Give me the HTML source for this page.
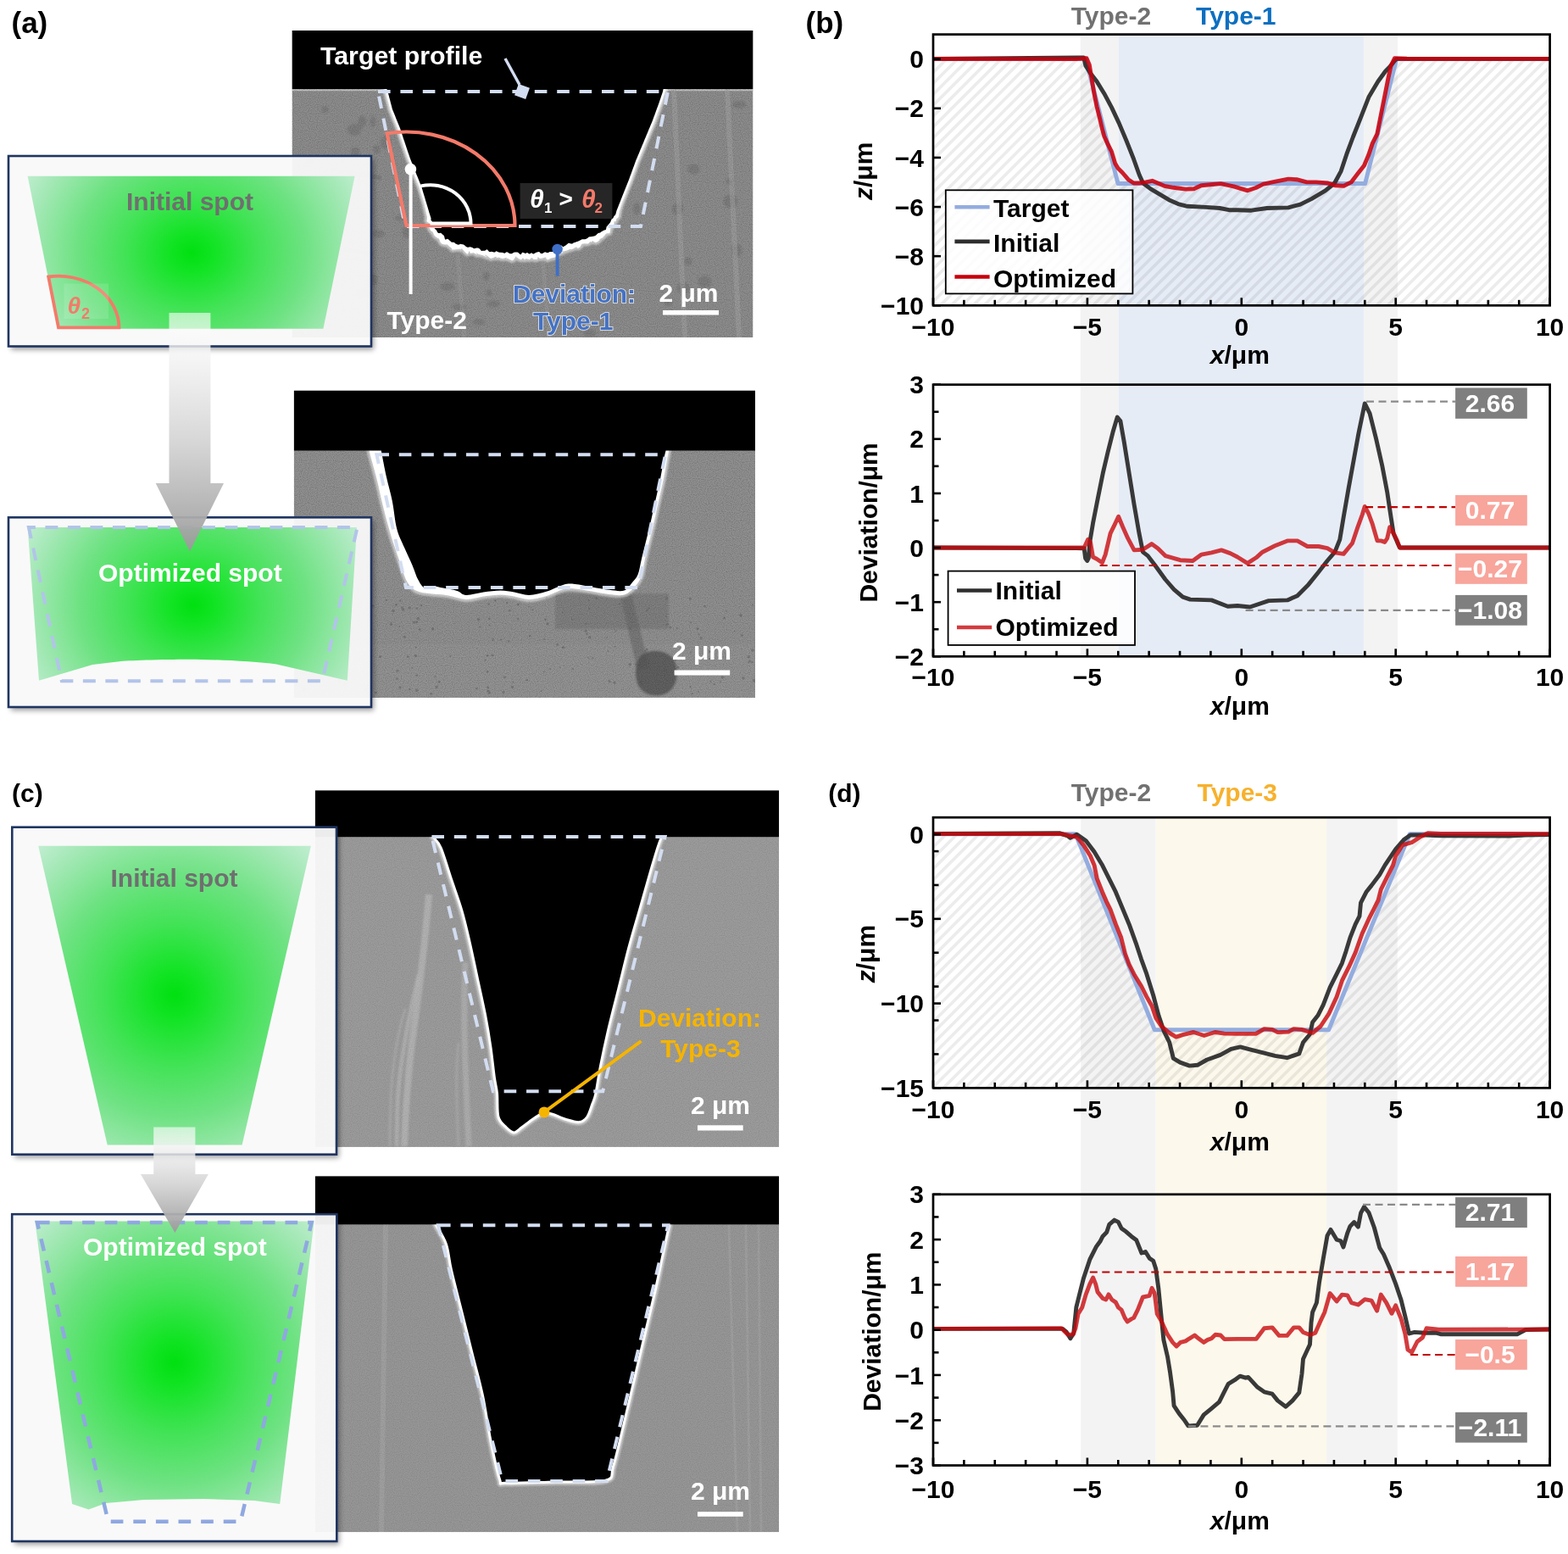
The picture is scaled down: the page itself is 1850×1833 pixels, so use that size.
<!DOCTYPE html>
<html><head><meta charset="utf-8"><style>html,body{margin:0;padding:0;background:#fff;overflow:hidden;}svg{display:block;}</style></head><body>
<svg width="1850" height="1833" viewBox="0 0 1850 1833" font-family="Liberation Sans, Arial, sans-serif">
<defs>
<pattern id="hatch" patternUnits="userSpaceOnUse" width="9.1" height="9.1" patternTransform="rotate(45)">
  <rect x="0" y="0" width="3.6" height="9.1" fill="#000" fill-opacity="0.075"/>
</pattern>
<filter id="shadow" x="-10%" y="-10%" width="125%" height="130%">
  <feDropShadow dx="3" dy="4" stdDeviation="3" flood-color="#000" flood-opacity="0.35"/>
</filter>
<filter id="blur3" x="-10%" y="-10%" width="120%" height="120%"><feGaussianBlur stdDeviation="3"/></filter>
<filter id="glow" x="-20%" y="-20%" width="140%" height="140%">
  <feGaussianBlur stdDeviation="1.2"/>
</filter>
<filter id="noise" x="0" y="0" width="100%" height="100%">
  <feTurbulence type="fractalNoise" baseFrequency="0.9" numOctaves="1" seed="3"/>
  <feColorMatrix type="matrix" values="0 0 0 0 0  0 0 0 0 0  0 0 0 0 0  0 0 0 0.9 -0.35"/>
</filter>
<linearGradient id="arrowg" x1="0" y1="0" x2="0" y2="1">
  <stop offset="0" stop-color="#ffffff" stop-opacity="0.6"/>
  <stop offset="0.15" stop-color="#f6f6f6" stop-opacity="0.8"/>
  <stop offset="0.55" stop-color="#d2d2d2" stop-opacity="0.92"/>
  <stop offset="1" stop-color="#9a9a9a" stop-opacity="0.95"/>
</linearGradient>

<radialGradient id="g1" gradientUnits="userSpaceOnUse" cx="226" cy="298" r="225" gradientTransform="translate(226 298) scale(1 0.87) translate(-226 -298)">
  <stop offset="0" stop-color="#00e010"/>
  <stop offset="0.12" stop-color="#12e424"/>
  <stop offset="0.35" stop-color="#42e356"/>
  <stop offset="0.6" stop-color="#6fe283"/>
  <stop offset="0.85" stop-color="#a4e8b6"/>
  <stop offset="1" stop-color="#c2eed2"/>
</radialGradient>
<radialGradient id="g2" gradientUnits="userSpaceOnUse" cx="228" cy="714" r="225" gradientTransform="translate(228 714) scale(1 0.87) translate(-228 -714)">
  <stop offset="0" stop-color="#00e010"/>
  <stop offset="0.12" stop-color="#12e424"/>
  <stop offset="0.35" stop-color="#42e356"/>
  <stop offset="0.6" stop-color="#6fe283"/>
  <stop offset="0.85" stop-color="#a4e8b6"/>
  <stop offset="1" stop-color="#c2eed2"/>
</radialGradient>
<radialGradient id="g3" gradientUnits="userSpaceOnUse" cx="206" cy="1173.5" r="240" gradientTransform="translate(206 1173.5) scale(1 1) translate(-206 -1173.5)">
  <stop offset="0" stop-color="#00e010"/>
  <stop offset="0.12" stop-color="#12e424"/>
  <stop offset="0.35" stop-color="#42e356"/>
  <stop offset="0.6" stop-color="#6fe283"/>
  <stop offset="0.85" stop-color="#a4e8b6"/>
  <stop offset="1" stop-color="#c2eed2"/>
</radialGradient>
<radialGradient id="g4" gradientUnits="userSpaceOnUse" cx="206" cy="1607" r="240" gradientTransform="translate(206 1607) scale(1 1) translate(-206 -1607)">
  <stop offset="0" stop-color="#00e010"/>
  <stop offset="0.12" stop-color="#12e424"/>
  <stop offset="0.35" stop-color="#42e356"/>
  <stop offset="0.6" stop-color="#6fe283"/>
  <stop offset="0.85" stop-color="#a4e8b6"/>
  <stop offset="1" stop-color="#c2eed2"/>
</radialGradient></defs>
<rect width="100%" height="100%" fill="#fff"/>
<clipPath id="c1"><rect x="344.5" y="36" width="544" height="362"/></clipPath>
<g clip-path="url(#c1)">
<rect x="344.5" y="36" width="544" height="362" fill="#8d8d8d"/>
<g fill="#666" opacity="0.35" filter="url(#glow)"><ellipse cx="523.3" cy="153.0" rx="6.9" ry="3.4"/><ellipse cx="636.7" cy="214.2" rx="3.3" ry="5.5"/><ellipse cx="370.1" cy="233.6" rx="3.4" ry="3.5"/><ellipse cx="577.1" cy="345.7" rx="3.7" ry="4.1"/><ellipse cx="685.7" cy="380.1" rx="6.5" ry="5.0"/><ellipse cx="872.3" cy="123.3" rx="8.2" ry="4.4"/><ellipse cx="427.2" cy="143.6" rx="4.9" ry="7.1"/><ellipse cx="446.7" cy="275.8" rx="6.8" ry="4.9"/><ellipse cx="643.0" cy="127.9" rx="3.4" ry="4.0"/><ellipse cx="714.0" cy="231.9" rx="4.9" ry="5.9"/><ellipse cx="592.5" cy="195.4" rx="7.8" ry="6.5"/><ellipse cx="480.6" cy="273.7" rx="6.2" ry="7.4"/><ellipse cx="740.3" cy="192.1" rx="8.9" ry="3.6"/><ellipse cx="573.7" cy="325.8" rx="3.9" ry="5.4"/><ellipse cx="371.0" cy="300.4" rx="7.6" ry="5.9"/><ellipse cx="818.4" cy="199.4" rx="7.2" ry="6.0"/><ellipse cx="660.2" cy="240.0" rx="8.0" ry="7.7"/><ellipse cx="603.6" cy="299.3" rx="3.4" ry="6.5"/><ellipse cx="696.2" cy="393.0" rx="7.9" ry="4.4"/><ellipse cx="556.4" cy="300.6" rx="3.1" ry="5.3"/><ellipse cx="439.9" cy="143.4" rx="3.4" ry="6.8"/><ellipse cx="419.2" cy="180.6" rx="5.3" ry="7.4"/><ellipse cx="393.1" cy="238.0" rx="6.3" ry="7.4"/><ellipse cx="788.3" cy="356.2" rx="4.7" ry="5.1"/><ellipse cx="541.9" cy="362.0" rx="8.7" ry="3.8"/><ellipse cx="444.3" cy="176.1" rx="4.4" ry="5.4"/><ellipse cx="665.2" cy="184.9" rx="3.0" ry="5.1"/><ellipse cx="547.6" cy="271.4" rx="8.7" ry="6.5"/><ellipse cx="625.8" cy="286.0" rx="7.1" ry="3.3"/><ellipse cx="831.3" cy="332.3" rx="8.2" ry="7.0"/><ellipse cx="559.9" cy="223.7" rx="3.6" ry="6.2"/><ellipse cx="383.3" cy="129.2" rx="4.3" ry="3.8"/><ellipse cx="531.9" cy="125.0" rx="3.0" ry="3.8"/><ellipse cx="404.3" cy="213.6" rx="3.2" ry="7.4"/><ellipse cx="678.5" cy="152.3" rx="4.5" ry="4.7"/><ellipse cx="544.8" cy="145.0" rx="8.1" ry="8.0"/><ellipse cx="599.3" cy="247.9" rx="3.5" ry="3.5"/><ellipse cx="533.3" cy="185.5" rx="8.0" ry="3.8"/><ellipse cx="362.4" cy="381.0" rx="6.2" ry="3.7"/><ellipse cx="640.6" cy="117.7" rx="6.2" ry="7.9"/><ellipse cx="811.9" cy="308.4" rx="4.6" ry="4.8"/><ellipse cx="439.4" cy="330.0" rx="6.2" ry="6.9"/><ellipse cx="526.4" cy="173.6" rx="7.9" ry="7.9"/><ellipse cx="806.2" cy="339.7" rx="7.9" ry="6.7"/><ellipse cx="471.3" cy="257.5" rx="5.1" ry="3.1"/><ellipse cx="364.9" cy="189.6" rx="4.6" ry="6.5"/><ellipse cx="861.7" cy="237.5" rx="8.6" ry="7.9"/><ellipse cx="860.9" cy="213.9" rx="4.3" ry="4.1"/><ellipse cx="455.2" cy="168.2" rx="6.7" ry="7.5"/><ellipse cx="799.6" cy="246.6" rx="6.9" ry="7.0"/><ellipse cx="395.4" cy="298.3" rx="8.5" ry="6.9"/><ellipse cx="751.3" cy="246.2" rx="4.1" ry="6.9"/><ellipse cx="527.9" cy="338.2" rx="8.8" ry="5.0"/><ellipse cx="564.7" cy="379.8" rx="7.3" ry="3.9"/><ellipse cx="418.0" cy="153.1" rx="8.4" ry="7.0"/><ellipse cx="428.2" cy="345.6" rx="8.9" ry="6.3"/><ellipse cx="537.5" cy="266.4" rx="3.8" ry="3.1"/><ellipse cx="869.4" cy="295.2" rx="6.2" ry="7.7"/><ellipse cx="582.1" cy="358.4" rx="8.0" ry="4.1"/><ellipse cx="484.7" cy="193.5" rx="4.4" ry="5.9"/></g><path d="M344.5 106.3 L458 106.3 M782 106.3 L888.5 106.3" stroke="#c4c4c4" stroke-width="1.8"/><path d="M795 105 L808 398 M858 105 L872 398" stroke="#a4a4a4" stroke-width="6" opacity="0.55" fill="none"/><path d="M390 200 L450 210 M385 290 L440 300" stroke="#707070" stroke-width="5" opacity="0.45" fill="none"/><path d="M540 300 L548 398 M640 300 L648 398" stroke="#a0a0a0" stroke-width="5" opacity="0.4" fill="none"/>
<rect x="344.5" y="105" width="544" height="293" filter="url(#noise)" opacity="0.5"/>
<path d="M455.5 103 C455.78 103.65 456.81 105.85 457.2 106.9 C457.59 107.95 457.62 108.51 457.83 109.32 C458.04 110.13 458.26 110.94 458.47 111.74 C458.68 112.55 458.89 113.36 459.1 114.17 C459.31 114.97 459.52 115.78 459.73 116.59 C459.94 117.4 460.16 118.2 460.37 119.01 C460.58 119.82 460.79 120.63 461 121.43 C461.21 122.24 461.42 123.05 461.63 123.86 C461.84 124.66 462.06 125.47 462.27 126.28 C462.48 127.09 462.62 127.87 462.9 128.7 C463.18 129.53 463.58 130.4 463.92 131.24 C464.26 132.09 464.6 132.94 464.94 133.79 C465.29 134.64 465.63 135.49 465.97 136.33 C466.31 137.18 466.65 138.03 466.99 138.88 C467.33 139.73 467.67 140.57 468.01 141.42 C468.35 142.27 468.69 143.12 469.03 143.97 C469.37 144.81 469.71 145.66 470.06 146.51 C470.4 147.36 470.74 148.21 471.08 149.06 C471.42 149.9 471.79 150.77 472.1 151.6 C472.41 152.43 472.64 153.24 472.91 154.06 C473.19 154.88 473.46 155.7 473.73 156.51 C474 157.33 474.27 158.15 474.54 158.97 C474.81 159.79 475.09 160.61 475.36 161.43 C475.63 162.25 475.9 163.07 476.17 163.89 C476.44 164.7 476.71 165.52 476.99 166.34 C477.26 167.16 477.53 167.98 477.8 168.8 C478.07 169.62 478.35 170.44 478.63 171.26 C478.9 172.08 479.18 172.9 479.46 173.71 C479.73 174.53 480.01 175.35 480.29 176.17 C480.56 176.99 480.84 177.81 481.11 178.63 C481.39 179.45 481.67 180.27 481.94 181.09 C482.22 181.9 482.5 182.72 482.77 183.54 C483.05 184.36 483.3 185.18 483.6 186 C483.9 186.82 484.25 187.64 484.57 188.46 C484.9 189.28 485.22 190.1 485.54 190.91 C485.87 191.73 486.19 192.55 486.51 193.37 C486.84 194.19 487.16 195.01 487.49 195.83 C487.81 196.65 488.13 197.47 488.46 198.29 C488.78 199.1 489.1 199.92 489.43 200.74 C489.75 201.56 490.07 202.38 490.4 203.2 C490.73 204.02 491.06 204.83 491.39 205.64 C491.71 206.46 492.04 207.27 492.37 208.09 C492.7 208.9 493.03 209.71 493.36 210.53 C493.69 211.34 494.01 212.16 494.34 212.97 C494.67 213.79 495 214.6 495.33 215.41 C495.66 216.23 495.99 217.04 496.31 217.86 C496.64 218.67 497.01 219.47 497.3 220.3 C497.59 221.13 497.81 222 498.07 222.86 C498.32 223.71 498.58 224.56 498.83 225.41 C499.09 226.26 499.34 227.11 499.6 227.97 C499.86 228.82 500.11 229.67 500.37 230.52 C500.62 231.37 500.88 232.23 501.13 233.08 C501.39 233.93 501.64 234.78 501.9 235.63 C502.16 236.49 502.41 237.34 502.67 238.19 C502.92 239.04 503.18 239.89 503.43 240.74 C503.69 241.6 503.94 242.43 504.2 243.3 C504.46 244.17 504.74 245.08 505.01 245.97 C505.29 246.86 505.53 247.64 505.83 248.64 C506.13 249.65 506.47 250.89 506.81 251.99 C507.16 253.09 507.57 254.25 507.87 255.22 C508.17 256.2 508.51 257.17 508.61 257.84 C508.7 258.51 508.11 258.47 508.43 259.23 C508.75 260 510.01 261.7 510.52 262.42 C511.03 263.13 511.26 262.84 511.49 263.52 C511.73 264.2 511.66 265.41 511.92 266.49 C512.18 267.57 512.63 269.26 513.06 270.01 C513.49 270.75 513.82 270.15 514.49 270.96 C515.15 271.77 516.13 274.24 517.02 274.87 C517.92 275.49 519.03 274.41 519.87 274.7 C520.72 274.98 521.4 275.95 522.08 276.59 C522.77 277.22 523.46 277.51 524 278.5 C524.53 279.5 524.63 282.01 525.3 282.54 C525.97 283.07 526.98 281.35 528.02 281.68 C529.06 282 530.7 283.82 531.53 284.49 C532.35 285.17 532.28 285.48 532.98 285.72 C533.68 285.95 534.97 285.58 535.75 285.9 C536.54 286.21 536.87 287.15 537.71 287.61 C538.56 288.07 539.85 288.63 540.82 288.66 C541.79 288.68 542.79 287.81 543.53 287.76 C544.26 287.71 544.57 288.2 545.21 288.36 C545.84 288.53 546.54 288.31 547.34 288.73 C548.14 289.15 549.22 290.39 550 290.89 C550.78 291.39 551.2 291.67 552.02 291.75 C552.84 291.83 553.92 291.24 554.92 291.37 C555.93 291.49 557.23 292.2 558.03 292.5 C558.84 292.79 558.98 293.13 559.77 293.15 C560.55 293.17 561.78 292.61 562.75 292.61 C563.72 292.61 564.72 292.64 565.57 293.16 C566.41 293.68 567.2 295.28 567.84 295.73 C568.48 296.17 568.63 295.86 569.41 295.83 C570.18 295.79 571.62 295.76 572.48 295.5 C573.34 295.24 573.75 294.01 574.57 294.27 C575.39 294.53 576.5 296.66 577.4 297.07 C578.31 297.49 578.98 296.7 580.02 296.78 C581.05 296.86 582.73 297.66 583.63 297.56 C584.53 297.46 584.63 296.16 585.4 296.17 C586.17 296.18 587.44 297.34 588.24 297.61 C589.05 297.88 589.32 297.68 590.25 297.8 C591.18 297.91 592.97 298.14 593.82 298.3 C594.67 298.45 594.65 298.91 595.35 298.73 C596.05 298.55 597.03 297.17 598.03 297.22 C599.03 297.27 600.43 298.7 601.36 299.03 C602.28 299.37 602.72 299.46 603.58 299.24 C604.43 299.02 605.6 298 606.46 297.71 C607.32 297.43 607.99 297.54 608.74 297.53 C609.5 297.51 610.06 297.19 611.01 297.64 C611.96 298.08 613.58 300.18 614.46 300.2 C615.35 300.22 615.39 297.94 616.33 297.74 C617.26 297.53 619.14 298.93 620.06 298.97 C620.98 299.02 621.06 297.93 621.83 298.02 C622.6 298.12 623.8 299.51 624.67 299.55 C625.54 299.6 626.32 298.3 627.06 298.3 C627.79 298.3 628.28 299.58 629.08 299.56 C629.87 299.55 630.72 298.62 631.83 298.2 C632.94 297.77 634.65 296.84 635.75 296.99 C636.84 297.15 637.5 298.86 638.38 299.1 C639.26 299.35 640.24 298.77 641.03 298.46 C641.81 298.16 642.26 297.32 643.08 297.29 C643.89 297.25 644.95 298.3 645.92 298.25 C646.9 298.2 647.82 297.21 648.91 296.97 C650.01 296.72 651.47 297.22 652.5 296.79 C653.52 296.35 654.32 294.86 655.07 294.37 C655.81 293.88 656.23 294.35 656.98 293.84 C657.73 293.33 658.72 292.02 659.57 291.31 C660.42 290.61 661.25 289.64 662.07 289.61 C662.88 289.58 663.51 291.2 664.45 291.15 C665.39 291.11 666.86 289.9 667.69 289.33 C668.53 288.76 668.87 288.15 669.47 287.71 C670.08 287.27 670.45 286.74 671.32 286.71 C672.2 286.69 673.85 287.6 674.72 287.57 C675.59 287.54 675.75 286.88 676.56 286.53 C677.36 286.17 678.68 285.74 679.56 285.46 C680.44 285.17 681.12 285.09 681.83 284.83 C682.54 284.56 683.12 284.26 683.85 283.86 C684.57 283.46 685.26 282.71 686.17 282.43 C687.08 282.16 688.47 282.25 689.29 282.2 C690.11 282.14 690.28 282.42 691.06 282.1 C691.85 281.78 693.25 280.72 694 280.26 C694.74 279.81 694.82 279.58 695.54 279.36 C696.26 279.13 697.4 279.04 698.31 278.89 C699.23 278.75 700.19 278.78 701.05 278.49 C701.91 278.19 702.78 277.65 703.47 277.13 C704.17 276.62 704.48 275.82 705.22 275.4 C705.96 274.98 707.21 274.96 707.93 274.62 C708.66 274.28 708.8 273.86 709.56 273.36 C710.31 272.86 711.58 272.01 712.45 271.63 C713.32 271.25 714.25 271.72 714.77 271.08 C715.29 270.44 715.28 268.54 715.58 267.78 C715.87 267.03 715.95 267.27 716.53 266.54 C717.11 265.82 718.46 264.19 719.06 263.44 C719.67 262.68 719.73 262.86 720.17 262.02 C720.6 261.17 721.17 259.15 721.67 258.38 C722.18 257.62 722.72 258.01 723.19 257.43 C723.66 256.84 724.03 255.49 724.48 254.88 C724.93 254.27 725.48 254.37 725.87 253.77 C726.26 253.17 726.54 252.19 726.81 251.28 C727.09 250.38 727.27 249.21 727.54 248.33 C727.82 247.45 728.16 246.78 728.47 246 C728.77 245.22 729.08 244.44 729.39 243.67 C729.7 242.89 730 242.11 730.31 241.33 C730.62 240.56 730.93 239.78 731.23 239 C731.54 238.22 731.85 237.44 732.16 236.67 C732.46 235.89 732.77 235.11 733.08 234.33 C733.39 233.56 733.68 232.81 734 232 C734.32 231.19 734.67 230.33 735 229.5 C735.33 228.67 735.67 227.83 736 227 C736.33 226.17 736.67 225.33 737 224.5 C737.33 223.67 737.67 222.83 738 222 C738.33 221.17 738.67 220.33 739 219.5 C739.33 218.67 739.67 217.83 740 217 C740.33 216.17 740.67 215.33 741 214.5 C741.33 213.67 741.69 212.82 742 212 C742.31 211.18 742.59 210.37 742.89 209.56 C743.19 208.74 743.48 207.93 743.78 207.11 C744.07 206.3 744.37 205.48 744.67 204.67 C744.96 203.85 745.26 203.04 745.56 202.22 C745.85 201.41 746.15 200.59 746.44 199.78 C746.74 198.96 747.04 198.15 747.33 197.33 C747.63 196.52 747.93 195.7 748.22 194.89 C748.52 194.07 748.81 193.26 749.11 192.44 C749.41 191.63 749.69 190.81 750 190 C750.31 189.19 750.67 188.4 751 187.6 C751.33 186.8 751.67 186 752 185.2 C752.33 184.4 752.67 183.6 753 182.8 C753.33 182 753.67 181.2 754 180.4 C754.33 179.6 754.67 178.8 755 178 C755.33 177.2 755.67 176.4 756 175.6 C756.33 174.8 756.67 174 757 173.2 C757.33 172.4 757.67 171.6 758 170.8 C758.33 170 758.67 169.2 759 168.4 C759.33 167.6 759.67 166.8 760 166 C760.33 165.2 760.67 164.4 761 163.6 C761.33 162.8 761.67 162 762 161.2 C762.33 160.4 762.67 159.6 763 158.8 C763.33 158 763.67 157.2 764 156.4 C764.33 155.6 764.67 154.8 765 154 C765.33 153.2 765.67 152.4 766 151.6 C766.33 150.8 766.67 150 767 149.2 C767.33 148.4 767.67 147.6 768 146.8 C768.33 146 768.67 145.2 769 144.4 C769.33 143.6 769.69 142.81 770 142 C770.31 141.19 770.59 140.37 770.89 139.56 C771.19 138.74 771.48 137.93 771.78 137.11 C772.07 136.3 772.37 135.48 772.67 134.67 C772.96 133.85 773.26 133.04 773.56 132.22 C773.85 131.41 774.15 130.59 774.44 129.78 C774.74 128.96 775.04 128.15 775.33 127.33 C775.63 126.52 775.93 125.7 776.22 124.89 C776.52 124.07 776.81 123.26 777.11 122.44 C777.41 121.63 777.72 120.81 778 120 C778.28 119.19 778.53 118.4 778.8 117.6 C779.07 116.8 779.33 116 779.6 115.2 C779.87 114.4 780.13 113.6 780.4 112.8 C780.67 112 780.93 111.2 781.2 110.4 C781.47 109.6 781.78 108.82 782 108 C782.22 107.18 782.33 106.33 782.5 105.5 C782.67 104.67 782.92 103.42 783 103" fill="none" stroke="#fff" stroke-width="7" stroke-opacity="0.55" filter="url(#glow)"/>
<path d="M453.21 104 C453.48 104.63 454.49 106.77 454.85 107.77 C455.22 108.76 455.22 109.19 455.41 109.95 C455.61 110.72 455.84 111.57 456.05 112.38 C456.26 113.18 456.47 113.99 456.68 114.8 C456.89 115.61 457.1 116.41 457.31 117.22 C457.53 118.03 457.74 118.84 457.95 119.64 C458.16 120.45 458.37 121.26 458.58 122.07 C458.79 122.87 459 123.68 459.21 124.49 C459.43 125.3 459.63 126.08 459.85 126.91 C460.07 127.74 460.24 128.61 460.53 129.49 C460.82 130.37 461.25 131.3 461.6 132.18 C461.95 133.05 462.28 133.87 462.62 134.72 C462.97 135.57 463.31 136.42 463.65 137.27 C463.99 138.11 464.33 138.96 464.67 139.81 C465.01 140.66 465.35 141.51 465.69 142.35 C466.03 143.2 466.37 144.05 466.71 144.9 C467.05 145.75 467.4 146.59 467.74 147.44 C468.08 148.29 468.42 149.15 468.76 149.99 C469.09 150.82 469.46 151.65 469.75 152.46 C470.05 153.27 470.27 154.04 470.54 154.84 C470.81 155.65 471.08 156.48 471.36 157.3 C471.63 158.12 471.9 158.94 472.17 159.76 C472.44 160.58 472.71 161.4 472.98 162.22 C473.26 163.03 473.53 163.85 473.8 164.67 C474.07 165.49 474.34 166.31 474.61 167.13 C474.88 167.95 475.15 168.77 475.43 169.59 C475.7 170.41 475.98 171.24 476.26 172.06 C476.54 172.88 476.81 173.69 477.09 174.51 C477.36 175.33 477.64 176.15 477.92 176.97 C478.19 177.79 478.47 178.61 478.75 179.43 C479.02 180.25 479.3 181.07 479.57 181.88 C479.85 182.7 480.12 183.51 480.4 184.34 C480.68 185.17 480.95 186.02 481.25 186.86 C481.56 187.7 481.92 188.55 482.25 189.38 C482.57 190.21 482.89 191.01 483.22 191.83 C483.54 192.65 483.87 193.47 484.19 194.29 C484.51 195.11 484.84 195.93 485.16 196.75 C485.48 197.57 485.81 198.39 486.13 199.2 C486.46 200.02 486.78 200.84 487.1 201.66 C487.43 202.48 487.75 203.31 488.08 204.13 C488.41 204.95 488.74 205.76 489.07 206.58 C489.4 207.39 489.72 208.21 490.05 209.02 C490.38 209.84 490.71 210.65 491.04 211.46 C491.37 212.28 491.7 213.09 492.02 213.91 C492.35 214.72 492.68 215.54 493.01 216.35 C493.34 217.16 493.67 218 494 218.79 C494.32 219.59 494.66 220.33 494.94 221.13 C495.22 221.92 495.42 222.74 495.67 223.57 C495.92 224.41 496.18 225.28 496.44 226.13 C496.69 226.98 496.95 227.83 497.21 228.69 C497.46 229.54 497.72 230.39 497.97 231.24 C498.23 232.09 498.48 232.94 498.74 233.8 C498.99 234.65 499.25 235.5 499.51 236.35 C499.76 237.2 500.03 238.05 500.27 238.91 C500.52 239.76 500.76 240.62 500.97 241.48 C501.17 242.35 501.31 243.22 501.49 244.12 C501.67 245.02 501.87 245.96 502.05 246.87 C502.24 247.79 502.4 248.57 502.61 249.61 C502.81 250.64 503.06 252.02 503.28 253.09 C503.51 254.15 503.88 254.91 503.97 256 C504.05 257.08 503.85 258.78 503.79 259.6 C503.72 260.43 502.97 260.24 503.56 260.95 C504.14 261.65 506.73 263.08 507.3 263.84 C507.88 264.59 507.18 264.89 506.99 265.47 C506.81 266.05 505.91 266.12 506.18 267.31 C506.45 268.5 507.89 271.58 508.62 272.59 C509.34 273.6 509.75 272.41 510.51 273.4 C511.27 274.39 511.95 277.15 513.19 278.54 C514.43 279.92 517.15 281.13 517.96 281.7 C518.77 282.28 518.01 281.89 518.05 281.99 C518.1 282.09 517.79 281.48 518.23 282.31 C518.66 283.14 519.28 285.93 520.64 286.97 C521.99 288.02 525.24 288.4 526.35 288.6 C527.46 288.81 526.6 287.82 527.3 288.21 C528 288.61 529.61 290.17 530.56 290.96 C531.51 291.74 532.4 292.32 532.99 292.92 C533.58 293.52 532.74 294.42 534.12 294.55 C535.5 294.69 539.65 293.78 541.25 293.73 C542.86 293.67 543.5 294.11 543.76 294.22 C544.03 294.34 542.64 294.59 542.84 294.42 C543.04 294.26 544.33 293.12 544.96 293.24 C545.59 293.36 545.54 294.1 546.63 295.14 C547.72 296.18 550.34 299.3 551.51 299.48 C552.68 299.67 553.04 296.37 553.65 296.24 C554.25 296.12 554.26 298.38 555.13 298.72 C555.99 299.07 557.57 298.03 558.84 298.32 C560.11 298.61 562.19 300.45 562.73 300.46 C563.26 300.47 561.77 298.5 562.04 298.38 C562.32 298.27 563.06 299.29 564.36 299.77 C565.66 300.25 568.15 300.7 569.85 301.27 C571.54 301.84 574.19 303.3 574.53 303.19 C574.87 303.09 571.82 300.86 571.88 300.64 C571.93 300.42 573.65 301.16 574.86 301.86 C576.07 302.56 577.43 304.68 579.14 304.84 C580.86 305 584.07 302.93 585.15 302.81 C586.24 302.68 585.55 303.89 585.65 304.12 C585.76 304.34 585.25 304.18 585.76 304.13 C586.27 304.08 587.53 303.68 588.73 303.82 C589.92 303.96 591.48 305 592.93 304.98 C594.37 304.96 596.64 303.72 597.4 303.7 C598.15 303.69 597.14 304.67 597.46 304.88 C597.77 305.09 598.01 304.62 599.27 304.98 C600.54 305.35 603.48 307.53 605.04 307.09 C606.6 306.65 607.91 302.95 608.63 302.34 C609.34 301.74 609.41 303.43 609.33 303.48 C609.26 303.52 607.33 302.16 608.15 302.61 C608.97 303.05 612.77 305.82 614.25 306.14 C615.74 306.45 616.25 304.46 617.06 304.5 C617.87 304.54 618.55 306.23 619.09 306.37 C619.62 306.52 619.3 305.43 620.26 305.37 C621.21 305.32 623.63 306.27 624.82 306.04 C626.01 305.81 626.58 304.03 627.38 304 C628.17 303.96 628.54 305.53 629.6 305.82 C630.66 306.12 632.89 306.21 633.74 305.75 C634.59 305.28 634.12 303.16 634.7 303.03 C635.28 302.89 635.72 304.87 637.21 304.95 C638.7 305.02 642.52 303.8 643.64 303.47 C644.75 303.15 643.59 302.55 643.91 303.01 C644.23 303.48 644.58 305.97 645.56 306.26 C646.54 306.55 648.09 305.27 649.8 304.74 C651.51 304.22 654.46 304.17 655.81 303.12 C657.15 302.06 657.13 299.11 657.85 298.4 C658.58 297.69 659.16 298.97 660.17 298.87 C661.18 298.77 663.6 298.45 663.91 297.8 C664.22 297.15 661.88 295.18 662.05 294.96 C662.21 294.74 663.43 296.5 664.87 296.49 C666.32 296.47 669.26 295.69 670.71 294.87 C672.16 294.05 673.47 291.76 673.59 291.59 C673.71 291.42 671.13 293.51 671.43 293.86 C671.72 294.21 673.98 294.09 675.37 293.69 C676.77 293.28 678.68 291.62 679.77 291.43 C680.86 291.23 681.07 292.6 681.9 292.51 C682.72 292.43 683.97 291.63 684.71 290.9 C685.45 290.17 685.78 288.66 686.34 288.11 C686.91 287.56 687.51 287.73 688.11 287.61 C688.71 287.48 688.97 287.42 689.94 287.35 C690.92 287.29 692.87 287.65 693.98 287.22 C695.09 286.79 696.04 285.03 696.61 284.77 C697.18 284.51 697 285.78 697.42 285.68 C697.84 285.58 698.19 284.12 699.13 284.16 C700.07 284.2 701.72 286.03 703.07 285.92 C704.42 285.82 706.5 284.16 707.22 283.54 C707.95 282.93 706.79 282.81 707.43 282.24 C708.08 281.68 710.2 280.8 711.1 280.15 C711.99 279.5 712.1 279.13 712.82 278.34 C713.53 277.56 714.29 276.02 715.38 275.42 C716.47 274.82 718.55 275.58 719.35 274.75 C720.15 273.91 719.91 271.46 720.17 270.42 C720.43 269.38 720.41 269.18 720.91 268.5 C721.4 267.82 722.59 266.97 723.16 266.32 C723.73 265.67 724.09 265.48 724.33 264.61 C724.57 263.74 724.25 261.65 724.58 261.1 C724.91 260.54 725.85 261.76 726.3 261.29 C726.75 260.82 726.74 259.11 727.27 258.27 C727.8 257.43 728.99 257.27 729.49 256.28 C730 255.29 730.08 253.51 730.28 252.35 C730.49 251.19 730.55 250.2 730.73 249.33 C730.9 248.46 731.13 247.91 731.35 247.14 C731.57 246.37 731.82 245.53 732.05 244.72 C732.29 243.91 732.51 243.1 732.76 242.3 C733.01 241.5 733.27 240.7 733.56 239.92 C733.85 239.13 734.17 238.36 734.48 237.59 C734.79 236.81 735.1 236.03 735.4 235.25 C735.71 234.48 736 233.73 736.32 232.92 C736.64 232.12 736.99 231.26 737.32 230.43 C737.65 229.6 737.99 228.76 738.32 227.93 C738.65 227.1 738.99 226.26 739.32 225.43 C739.65 224.6 739.99 223.76 740.32 222.93 C740.65 222.1 740.99 221.26 741.32 220.43 C741.65 219.6 741.99 218.76 742.32 217.93 C742.65 217.1 742.99 216.27 743.32 215.43 C743.66 214.59 744.02 213.73 744.34 212.89 C744.65 212.06 744.94 211.23 745.24 210.41 C745.54 209.59 745.83 208.78 746.13 207.97 C746.42 207.15 746.72 206.34 747.02 205.52 C747.31 204.71 747.61 203.89 747.91 203.08 C748.2 202.26 748.5 201.45 748.79 200.63 C749.09 199.82 749.39 199 749.68 198.19 C749.98 197.37 750.28 196.56 750.57 195.74 C750.87 194.93 751.17 194.1 751.46 193.3 C751.75 192.49 752.02 191.7 752.33 190.91 C752.64 190.12 752.98 189.35 753.31 188.56 C753.64 187.77 753.97 186.96 754.31 186.16 C754.64 185.36 754.97 184.56 755.31 183.76 C755.64 182.96 755.97 182.16 756.31 181.36 C756.64 180.56 756.97 179.76 757.31 178.96 C757.64 178.16 757.97 177.36 758.31 176.56 C758.64 175.76 758.97 174.96 759.31 174.16 C759.64 173.36 759.97 172.56 760.31 171.76 C760.64 170.96 760.97 170.16 761.31 169.36 C761.64 168.56 761.97 167.76 762.31 166.96 C762.64 166.16 762.97 165.36 763.31 164.56 C763.64 163.76 763.97 162.96 764.31 162.16 C764.64 161.36 764.97 160.56 765.31 159.76 C765.64 158.96 765.97 158.16 766.31 157.36 C766.64 156.56 766.97 155.76 767.31 154.96 C767.64 154.16 767.97 153.36 768.31 152.56 C768.64 151.76 768.97 150.96 769.31 150.16 C769.64 149.36 769.97 148.56 770.31 147.76 C770.64 146.96 770.97 146.17 771.31 145.36 C771.64 144.55 772.01 143.73 772.33 142.91 C772.65 142.08 772.94 141.23 773.24 140.41 C773.54 139.59 773.83 138.78 774.13 137.97 C774.42 137.15 774.72 136.34 775.02 135.52 C775.31 134.71 775.61 133.89 775.91 133.08 C776.2 132.26 776.5 131.45 776.79 130.63 C777.09 129.82 777.39 129 777.68 128.19 C777.98 127.37 778.28 126.56 778.57 125.74 C778.87 124.93 779.16 124.12 779.46 123.3 C779.76 122.48 780.08 121.64 780.36 120.82 C780.65 120 780.9 119.2 781.17 118.39 C781.44 117.59 781.71 116.79 781.97 115.99 C782.24 115.19 782.51 114.39 782.77 113.59 C783.04 112.79 783.3 112.02 783.57 111.19 C783.85 110.37 784.19 109.51 784.42 108.64 C784.65 107.77 784.78 106.85 784.95 105.99 C785.12 105.13 785.37 103.91 785.45 103.49" fill="none" stroke="#fff" stroke-width="6" stroke-opacity="0.5" filter="url(#glow)"/>
<path d="M453.21 104 C453.48 104.63 454.49 106.77 454.85 107.77 C455.22 108.76 455.22 109.19 455.41 109.95 C455.61 110.72 455.84 111.57 456.05 112.38 C456.26 113.18 456.47 113.99 456.68 114.8 C456.89 115.61 457.1 116.41 457.31 117.22 C457.53 118.03 457.74 118.84 457.95 119.64 C458.16 120.45 458.37 121.26 458.58 122.07 C458.79 122.87 459 123.68 459.21 124.49 C459.43 125.3 459.63 126.08 459.85 126.91 C460.07 127.74 460.24 128.61 460.53 129.49 C460.82 130.37 461.25 131.3 461.6 132.18 C461.95 133.05 462.28 133.87 462.62 134.72 C462.97 135.57 463.31 136.42 463.65 137.27 C463.99 138.11 464.33 138.96 464.67 139.81 C465.01 140.66 465.35 141.51 465.69 142.35 C466.03 143.2 466.37 144.05 466.71 144.9 C467.05 145.75 467.4 146.59 467.74 147.44 C468.08 148.29 468.42 149.15 468.76 149.99 C469.09 150.82 469.46 151.65 469.75 152.46 C470.05 153.27 470.27 154.04 470.54 154.84 C470.81 155.65 471.08 156.48 471.36 157.3 C471.63 158.12 471.9 158.94 472.17 159.76 C472.44 160.58 472.71 161.4 472.98 162.22 C473.26 163.03 473.53 163.85 473.8 164.67 C474.07 165.49 474.34 166.31 474.61 167.13 C474.88 167.95 475.15 168.77 475.43 169.59 C475.7 170.41 475.98 171.24 476.26 172.06 C476.54 172.88 476.81 173.69 477.09 174.51 C477.36 175.33 477.64 176.15 477.92 176.97 C478.19 177.79 478.47 178.61 478.75 179.43 C479.02 180.25 479.3 181.07 479.57 181.88 C479.85 182.7 480.12 183.51 480.4 184.34 C480.68 185.17 480.95 186.02 481.25 186.86 C481.56 187.7 481.92 188.55 482.25 189.38 C482.57 190.21 482.89 191.01 483.22 191.83 C483.54 192.65 483.87 193.47 484.19 194.29 C484.51 195.11 484.84 195.93 485.16 196.75 C485.48 197.57 485.81 198.39 486.13 199.2 C486.46 200.02 486.78 200.84 487.1 201.66 C487.43 202.48 487.75 203.31 488.08 204.13 C488.41 204.95 488.74 205.76 489.07 206.58 C489.4 207.39 489.72 208.21 490.05 209.02 C490.38 209.84 490.71 210.65 491.04 211.46 C491.37 212.28 491.7 213.09 492.02 213.91 C492.35 214.72 492.68 215.54 493.01 216.35 C493.34 217.16 493.67 218 494 218.79 C494.32 219.59 494.66 220.33 494.94 221.13 C495.22 221.92 495.42 222.74 495.67 223.57 C495.92 224.41 496.18 225.28 496.44 226.13 C496.69 226.98 496.95 227.83 497.21 228.69 C497.46 229.54 497.72 230.39 497.97 231.24 C498.23 232.09 498.48 232.94 498.74 233.8 C498.99 234.65 499.25 235.5 499.51 236.35 C499.76 237.2 500.03 238.05 500.27 238.91 C500.52 239.76 500.76 240.62 500.97 241.48 C501.17 242.35 501.31 243.22 501.49 244.12 C501.67 245.02 501.87 245.96 502.05 246.87 C502.24 247.79 502.4 248.57 502.61 249.61 C502.81 250.64 503.06 252.02 503.28 253.09 C503.51 254.15 503.88 254.91 503.97 256 C504.05 257.08 503.85 258.78 503.79 259.6 C503.72 260.43 502.97 260.24 503.56 260.95 C504.14 261.65 506.73 263.08 507.3 263.84 C507.88 264.59 507.18 264.89 506.99 265.47 C506.81 266.05 505.91 266.12 506.18 267.31 C506.45 268.5 507.89 271.58 508.62 272.59 C509.34 273.6 509.75 272.41 510.51 273.4 C511.27 274.39 511.95 277.15 513.19 278.54 C514.43 279.92 517.15 281.13 517.96 281.7 C518.77 282.28 518.01 281.89 518.05 281.99 C518.1 282.09 517.79 281.48 518.23 282.31 C518.66 283.14 519.28 285.93 520.64 286.97 C521.99 288.02 525.24 288.4 526.35 288.6 C527.46 288.81 526.6 287.82 527.3 288.21 C528 288.61 529.61 290.17 530.56 290.96 C531.51 291.74 532.4 292.32 532.99 292.92 C533.58 293.52 532.74 294.42 534.12 294.55 C535.5 294.69 539.65 293.78 541.25 293.73 C542.86 293.67 543.5 294.11 543.76 294.22 C544.03 294.34 542.64 294.59 542.84 294.42 C543.04 294.26 544.33 293.12 544.96 293.24 C545.59 293.36 545.54 294.1 546.63 295.14 C547.72 296.18 550.34 299.3 551.51 299.48 C552.68 299.67 553.04 296.37 553.65 296.24 C554.25 296.12 554.26 298.38 555.13 298.72 C555.99 299.07 557.57 298.03 558.84 298.32 C560.11 298.61 562.19 300.45 562.73 300.46 C563.26 300.47 561.77 298.5 562.04 298.38 C562.32 298.27 563.06 299.29 564.36 299.77 C565.66 300.25 568.15 300.7 569.85 301.27 C571.54 301.84 574.19 303.3 574.53 303.19 C574.87 303.09 571.82 300.86 571.88 300.64 C571.93 300.42 573.65 301.16 574.86 301.86 C576.07 302.56 577.43 304.68 579.14 304.84 C580.86 305 584.07 302.93 585.15 302.81 C586.24 302.68 585.55 303.89 585.65 304.12 C585.76 304.34 585.25 304.18 585.76 304.13 C586.27 304.08 587.53 303.68 588.73 303.82 C589.92 303.96 591.48 305 592.93 304.98 C594.37 304.96 596.64 303.72 597.4 303.7 C598.15 303.69 597.14 304.67 597.46 304.88 C597.77 305.09 598.01 304.62 599.27 304.98 C600.54 305.35 603.48 307.53 605.04 307.09 C606.6 306.65 607.91 302.95 608.63 302.34 C609.34 301.74 609.41 303.43 609.33 303.48 C609.26 303.52 607.33 302.16 608.15 302.61 C608.97 303.05 612.77 305.82 614.25 306.14 C615.74 306.45 616.25 304.46 617.06 304.5 C617.87 304.54 618.55 306.23 619.09 306.37 C619.62 306.52 619.3 305.43 620.26 305.37 C621.21 305.32 623.63 306.27 624.82 306.04 C626.01 305.81 626.58 304.03 627.38 304 C628.17 303.96 628.54 305.53 629.6 305.82 C630.66 306.12 632.89 306.21 633.74 305.75 C634.59 305.28 634.12 303.16 634.7 303.03 C635.28 302.89 635.72 304.87 637.21 304.95 C638.7 305.02 642.52 303.8 643.64 303.47 C644.75 303.15 643.59 302.55 643.91 303.01 C644.23 303.48 644.58 305.97 645.56 306.26 C646.54 306.55 648.09 305.27 649.8 304.74 C651.51 304.22 654.46 304.17 655.81 303.12 C657.15 302.06 657.13 299.11 657.85 298.4 C658.58 297.69 659.16 298.97 660.17 298.87 C661.18 298.77 663.6 298.45 663.91 297.8 C664.22 297.15 661.88 295.18 662.05 294.96 C662.21 294.74 663.43 296.5 664.87 296.49 C666.32 296.47 669.26 295.69 670.71 294.87 C672.16 294.05 673.47 291.76 673.59 291.59 C673.71 291.42 671.13 293.51 671.43 293.86 C671.72 294.21 673.98 294.09 675.37 293.69 C676.77 293.28 678.68 291.62 679.77 291.43 C680.86 291.23 681.07 292.6 681.9 292.51 C682.72 292.43 683.97 291.63 684.71 290.9 C685.45 290.17 685.78 288.66 686.34 288.11 C686.91 287.56 687.51 287.73 688.11 287.61 C688.71 287.48 688.97 287.42 689.94 287.35 C690.92 287.29 692.87 287.65 693.98 287.22 C695.09 286.79 696.04 285.03 696.61 284.77 C697.18 284.51 697 285.78 697.42 285.68 C697.84 285.58 698.19 284.12 699.13 284.16 C700.07 284.2 701.72 286.03 703.07 285.92 C704.42 285.82 706.5 284.16 707.22 283.54 C707.95 282.93 706.79 282.81 707.43 282.24 C708.08 281.68 710.2 280.8 711.1 280.15 C711.99 279.5 712.1 279.13 712.82 278.34 C713.53 277.56 714.29 276.02 715.38 275.42 C716.47 274.82 718.55 275.58 719.35 274.75 C720.15 273.91 719.91 271.46 720.17 270.42 C720.43 269.38 720.41 269.18 720.91 268.5 C721.4 267.82 722.59 266.97 723.16 266.32 C723.73 265.67 724.09 265.48 724.33 264.61 C724.57 263.74 724.25 261.65 724.58 261.1 C724.91 260.54 725.85 261.76 726.3 261.29 C726.75 260.82 726.74 259.11 727.27 258.27 C727.8 257.43 728.99 257.27 729.49 256.28 C730 255.29 730.08 253.51 730.28 252.35 C730.49 251.19 730.55 250.2 730.73 249.33 C730.9 248.46 731.13 247.91 731.35 247.14 C731.57 246.37 731.82 245.53 732.05 244.72 C732.29 243.91 732.51 243.1 732.76 242.3 C733.01 241.5 733.27 240.7 733.56 239.92 C733.85 239.13 734.17 238.36 734.48 237.59 C734.79 236.81 735.1 236.03 735.4 235.25 C735.71 234.48 736 233.73 736.32 232.92 C736.64 232.12 736.99 231.26 737.32 230.43 C737.65 229.6 737.99 228.76 738.32 227.93 C738.65 227.1 738.99 226.26 739.32 225.43 C739.65 224.6 739.99 223.76 740.32 222.93 C740.65 222.1 740.99 221.26 741.32 220.43 C741.65 219.6 741.99 218.76 742.32 217.93 C742.65 217.1 742.99 216.27 743.32 215.43 C743.66 214.59 744.02 213.73 744.34 212.89 C744.65 212.06 744.94 211.23 745.24 210.41 C745.54 209.59 745.83 208.78 746.13 207.97 C746.42 207.15 746.72 206.34 747.02 205.52 C747.31 204.71 747.61 203.89 747.91 203.08 C748.2 202.26 748.5 201.45 748.79 200.63 C749.09 199.82 749.39 199 749.68 198.19 C749.98 197.37 750.28 196.56 750.57 195.74 C750.87 194.93 751.17 194.1 751.46 193.3 C751.75 192.49 752.02 191.7 752.33 190.91 C752.64 190.12 752.98 189.35 753.31 188.56 C753.64 187.77 753.97 186.96 754.31 186.16 C754.64 185.36 754.97 184.56 755.31 183.76 C755.64 182.96 755.97 182.16 756.31 181.36 C756.64 180.56 756.97 179.76 757.31 178.96 C757.64 178.16 757.97 177.36 758.31 176.56 C758.64 175.76 758.97 174.96 759.31 174.16 C759.64 173.36 759.97 172.56 760.31 171.76 C760.64 170.96 760.97 170.16 761.31 169.36 C761.64 168.56 761.97 167.76 762.31 166.96 C762.64 166.16 762.97 165.36 763.31 164.56 C763.64 163.76 763.97 162.96 764.31 162.16 C764.64 161.36 764.97 160.56 765.31 159.76 C765.64 158.96 765.97 158.16 766.31 157.36 C766.64 156.56 766.97 155.76 767.31 154.96 C767.64 154.16 767.97 153.36 768.31 152.56 C768.64 151.76 768.97 150.96 769.31 150.16 C769.64 149.36 769.97 148.56 770.31 147.76 C770.64 146.96 770.97 146.17 771.31 145.36 C771.64 144.55 772.01 143.73 772.33 142.91 C772.65 142.08 772.94 141.23 773.24 140.41 C773.54 139.59 773.83 138.78 774.13 137.97 C774.42 137.15 774.72 136.34 775.02 135.52 C775.31 134.71 775.61 133.89 775.91 133.08 C776.2 132.26 776.5 131.45 776.79 130.63 C777.09 129.82 777.39 129 777.68 128.19 C777.98 127.37 778.28 126.56 778.57 125.74 C778.87 124.93 779.16 124.12 779.46 123.3 C779.76 122.48 780.08 121.64 780.36 120.82 C780.65 120 780.9 119.2 781.17 118.39 C781.44 117.59 781.71 116.79 781.97 115.99 C782.24 115.19 782.51 114.39 782.77 113.59 C783.04 112.79 783.3 112.02 783.57 111.19 C783.85 110.37 784.19 109.51 784.42 108.64 C784.65 107.77 784.78 106.85 784.95 105.99 C785.12 105.13 785.37 103.91 785.45 103.49 L785.45 93 L453.21 93Z" fill="#fff"/>
<path d="M455.5 103 C455.78 103.65 456.81 105.85 457.2 106.9 C457.59 107.95 457.62 108.51 457.83 109.32 C458.04 110.13 458.26 110.94 458.47 111.74 C458.68 112.55 458.89 113.36 459.1 114.17 C459.31 114.97 459.52 115.78 459.73 116.59 C459.94 117.4 460.16 118.2 460.37 119.01 C460.58 119.82 460.79 120.63 461 121.43 C461.21 122.24 461.42 123.05 461.63 123.86 C461.84 124.66 462.06 125.47 462.27 126.28 C462.48 127.09 462.62 127.87 462.9 128.7 C463.18 129.53 463.58 130.4 463.92 131.24 C464.26 132.09 464.6 132.94 464.94 133.79 C465.29 134.64 465.63 135.49 465.97 136.33 C466.31 137.18 466.65 138.03 466.99 138.88 C467.33 139.73 467.67 140.57 468.01 141.42 C468.35 142.27 468.69 143.12 469.03 143.97 C469.37 144.81 469.71 145.66 470.06 146.51 C470.4 147.36 470.74 148.21 471.08 149.06 C471.42 149.9 471.79 150.77 472.1 151.6 C472.41 152.43 472.64 153.24 472.91 154.06 C473.19 154.88 473.46 155.7 473.73 156.51 C474 157.33 474.27 158.15 474.54 158.97 C474.81 159.79 475.09 160.61 475.36 161.43 C475.63 162.25 475.9 163.07 476.17 163.89 C476.44 164.7 476.71 165.52 476.99 166.34 C477.26 167.16 477.53 167.98 477.8 168.8 C478.07 169.62 478.35 170.44 478.63 171.26 C478.9 172.08 479.18 172.9 479.46 173.71 C479.73 174.53 480.01 175.35 480.29 176.17 C480.56 176.99 480.84 177.81 481.11 178.63 C481.39 179.45 481.67 180.27 481.94 181.09 C482.22 181.9 482.5 182.72 482.77 183.54 C483.05 184.36 483.3 185.18 483.6 186 C483.9 186.82 484.25 187.64 484.57 188.46 C484.9 189.28 485.22 190.1 485.54 190.91 C485.87 191.73 486.19 192.55 486.51 193.37 C486.84 194.19 487.16 195.01 487.49 195.83 C487.81 196.65 488.13 197.47 488.46 198.29 C488.78 199.1 489.1 199.92 489.43 200.74 C489.75 201.56 490.07 202.38 490.4 203.2 C490.73 204.02 491.06 204.83 491.39 205.64 C491.71 206.46 492.04 207.27 492.37 208.09 C492.7 208.9 493.03 209.71 493.36 210.53 C493.69 211.34 494.01 212.16 494.34 212.97 C494.67 213.79 495 214.6 495.33 215.41 C495.66 216.23 495.99 217.04 496.31 217.86 C496.64 218.67 497.01 219.47 497.3 220.3 C497.59 221.13 497.81 222 498.07 222.86 C498.32 223.71 498.58 224.56 498.83 225.41 C499.09 226.26 499.34 227.11 499.6 227.97 C499.86 228.82 500.11 229.67 500.37 230.52 C500.62 231.37 500.88 232.23 501.13 233.08 C501.39 233.93 501.64 234.78 501.9 235.63 C502.16 236.49 502.41 237.34 502.67 238.19 C502.92 239.04 503.18 239.89 503.43 240.74 C503.69 241.6 503.94 242.43 504.2 243.3 C504.46 244.17 504.74 245.08 505.01 245.97 C505.29 246.86 505.53 247.64 505.83 248.64 C506.13 249.65 506.47 250.89 506.81 251.99 C507.16 253.09 507.57 254.25 507.87 255.22 C508.17 256.2 508.51 257.17 508.61 257.84 C508.7 258.51 508.11 258.47 508.43 259.23 C508.75 260 510.01 261.7 510.52 262.42 C511.03 263.13 511.26 262.84 511.49 263.52 C511.73 264.2 511.66 265.41 511.92 266.49 C512.18 267.57 512.63 269.26 513.06 270.01 C513.49 270.75 513.82 270.15 514.49 270.96 C515.15 271.77 516.13 274.24 517.02 274.87 C517.92 275.49 519.03 274.41 519.87 274.7 C520.72 274.98 521.4 275.95 522.08 276.59 C522.77 277.22 523.46 277.51 524 278.5 C524.53 279.5 524.63 282.01 525.3 282.54 C525.97 283.07 526.98 281.35 528.02 281.68 C529.06 282 530.7 283.82 531.53 284.49 C532.35 285.17 532.28 285.48 532.98 285.72 C533.68 285.95 534.97 285.58 535.75 285.9 C536.54 286.21 536.87 287.15 537.71 287.61 C538.56 288.07 539.85 288.63 540.82 288.66 C541.79 288.68 542.79 287.81 543.53 287.76 C544.26 287.71 544.57 288.2 545.21 288.36 C545.84 288.53 546.54 288.31 547.34 288.73 C548.14 289.15 549.22 290.39 550 290.89 C550.78 291.39 551.2 291.67 552.02 291.75 C552.84 291.83 553.92 291.24 554.92 291.37 C555.93 291.49 557.23 292.2 558.03 292.5 C558.84 292.79 558.98 293.13 559.77 293.15 C560.55 293.17 561.78 292.61 562.75 292.61 C563.72 292.61 564.72 292.64 565.57 293.16 C566.41 293.68 567.2 295.28 567.84 295.73 C568.48 296.17 568.63 295.86 569.41 295.83 C570.18 295.79 571.62 295.76 572.48 295.5 C573.34 295.24 573.75 294.01 574.57 294.27 C575.39 294.53 576.5 296.66 577.4 297.07 C578.31 297.49 578.98 296.7 580.02 296.78 C581.05 296.86 582.73 297.66 583.63 297.56 C584.53 297.46 584.63 296.16 585.4 296.17 C586.17 296.18 587.44 297.34 588.24 297.61 C589.05 297.88 589.32 297.68 590.25 297.8 C591.18 297.91 592.97 298.14 593.82 298.3 C594.67 298.45 594.65 298.91 595.35 298.73 C596.05 298.55 597.03 297.17 598.03 297.22 C599.03 297.27 600.43 298.7 601.36 299.03 C602.28 299.37 602.72 299.46 603.58 299.24 C604.43 299.02 605.6 298 606.46 297.71 C607.32 297.43 607.99 297.54 608.74 297.53 C609.5 297.51 610.06 297.19 611.01 297.64 C611.96 298.08 613.58 300.18 614.46 300.2 C615.35 300.22 615.39 297.94 616.33 297.74 C617.26 297.53 619.14 298.93 620.06 298.97 C620.98 299.02 621.06 297.93 621.83 298.02 C622.6 298.12 623.8 299.51 624.67 299.55 C625.54 299.6 626.32 298.3 627.06 298.3 C627.79 298.3 628.28 299.58 629.08 299.56 C629.87 299.55 630.72 298.62 631.83 298.2 C632.94 297.77 634.65 296.84 635.75 296.99 C636.84 297.15 637.5 298.86 638.38 299.1 C639.26 299.35 640.24 298.77 641.03 298.46 C641.81 298.16 642.26 297.32 643.08 297.29 C643.89 297.25 644.95 298.3 645.92 298.25 C646.9 298.2 647.82 297.21 648.91 296.97 C650.01 296.72 651.47 297.22 652.5 296.79 C653.52 296.35 654.32 294.86 655.07 294.37 C655.81 293.88 656.23 294.35 656.98 293.84 C657.73 293.33 658.72 292.02 659.57 291.31 C660.42 290.61 661.25 289.64 662.07 289.61 C662.88 289.58 663.51 291.2 664.45 291.15 C665.39 291.11 666.86 289.9 667.69 289.33 C668.53 288.76 668.87 288.15 669.47 287.71 C670.08 287.27 670.45 286.74 671.32 286.71 C672.2 286.69 673.85 287.6 674.72 287.57 C675.59 287.54 675.75 286.88 676.56 286.53 C677.36 286.17 678.68 285.74 679.56 285.46 C680.44 285.17 681.12 285.09 681.83 284.83 C682.54 284.56 683.12 284.26 683.85 283.86 C684.57 283.46 685.26 282.71 686.17 282.43 C687.08 282.16 688.47 282.25 689.29 282.2 C690.11 282.14 690.28 282.42 691.06 282.1 C691.85 281.78 693.25 280.72 694 280.26 C694.74 279.81 694.82 279.58 695.54 279.36 C696.26 279.13 697.4 279.04 698.31 278.89 C699.23 278.75 700.19 278.78 701.05 278.49 C701.91 278.19 702.78 277.65 703.47 277.13 C704.17 276.62 704.48 275.82 705.22 275.4 C705.96 274.98 707.21 274.96 707.93 274.62 C708.66 274.28 708.8 273.86 709.56 273.36 C710.31 272.86 711.58 272.01 712.45 271.63 C713.32 271.25 714.25 271.72 714.77 271.08 C715.29 270.44 715.28 268.54 715.58 267.78 C715.87 267.03 715.95 267.27 716.53 266.54 C717.11 265.82 718.46 264.19 719.06 263.44 C719.67 262.68 719.73 262.86 720.17 262.02 C720.6 261.17 721.17 259.15 721.67 258.38 C722.18 257.62 722.72 258.01 723.19 257.43 C723.66 256.84 724.03 255.49 724.48 254.88 C724.93 254.27 725.48 254.37 725.87 253.77 C726.26 253.17 726.54 252.19 726.81 251.28 C727.09 250.38 727.27 249.21 727.54 248.33 C727.82 247.45 728.16 246.78 728.47 246 C728.77 245.22 729.08 244.44 729.39 243.67 C729.7 242.89 730 242.11 730.31 241.33 C730.62 240.56 730.93 239.78 731.23 239 C731.54 238.22 731.85 237.44 732.16 236.67 C732.46 235.89 732.77 235.11 733.08 234.33 C733.39 233.56 733.68 232.81 734 232 C734.32 231.19 734.67 230.33 735 229.5 C735.33 228.67 735.67 227.83 736 227 C736.33 226.17 736.67 225.33 737 224.5 C737.33 223.67 737.67 222.83 738 222 C738.33 221.17 738.67 220.33 739 219.5 C739.33 218.67 739.67 217.83 740 217 C740.33 216.17 740.67 215.33 741 214.5 C741.33 213.67 741.69 212.82 742 212 C742.31 211.18 742.59 210.37 742.89 209.56 C743.19 208.74 743.48 207.93 743.78 207.11 C744.07 206.3 744.37 205.48 744.67 204.67 C744.96 203.85 745.26 203.04 745.56 202.22 C745.85 201.41 746.15 200.59 746.44 199.78 C746.74 198.96 747.04 198.15 747.33 197.33 C747.63 196.52 747.93 195.7 748.22 194.89 C748.52 194.07 748.81 193.26 749.11 192.44 C749.41 191.63 749.69 190.81 750 190 C750.31 189.19 750.67 188.4 751 187.6 C751.33 186.8 751.67 186 752 185.2 C752.33 184.4 752.67 183.6 753 182.8 C753.33 182 753.67 181.2 754 180.4 C754.33 179.6 754.67 178.8 755 178 C755.33 177.2 755.67 176.4 756 175.6 C756.33 174.8 756.67 174 757 173.2 C757.33 172.4 757.67 171.6 758 170.8 C758.33 170 758.67 169.2 759 168.4 C759.33 167.6 759.67 166.8 760 166 C760.33 165.2 760.67 164.4 761 163.6 C761.33 162.8 761.67 162 762 161.2 C762.33 160.4 762.67 159.6 763 158.8 C763.33 158 763.67 157.2 764 156.4 C764.33 155.6 764.67 154.8 765 154 C765.33 153.2 765.67 152.4 766 151.6 C766.33 150.8 766.67 150 767 149.2 C767.33 148.4 767.67 147.6 768 146.8 C768.33 146 768.67 145.2 769 144.4 C769.33 143.6 769.69 142.81 770 142 C770.31 141.19 770.59 140.37 770.89 139.56 C771.19 138.74 771.48 137.93 771.78 137.11 C772.07 136.3 772.37 135.48 772.67 134.67 C772.96 133.85 773.26 133.04 773.56 132.22 C773.85 131.41 774.15 130.59 774.44 129.78 C774.74 128.96 775.04 128.15 775.33 127.33 C775.63 126.52 775.93 125.7 776.22 124.89 C776.52 124.07 776.81 123.26 777.11 122.44 C777.41 121.63 777.72 120.81 778 120 C778.28 119.19 778.53 118.4 778.8 117.6 C779.07 116.8 779.33 116 779.6 115.2 C779.87 114.4 780.13 113.6 780.4 112.8 C780.67 112 780.93 111.2 781.2 110.4 C781.47 109.6 781.78 108.82 782 108 C782.22 107.18 782.33 106.33 782.5 105.5 C782.67 104.67 782.92 103.42 783 103 L783 93 L455.5 93Z" fill="#000"/>
<rect x="344.5" y="36" width="544" height="69" fill="#000"/>
</g>
<path d="M446 108 L788 108 L756 267 L478 267 Z" fill="none" stroke="#d3ddf1" stroke-width="4" stroke-dasharray="14.6 11.8"/>
<line x1="596" y1="69" x2="613" y2="100" stroke="#d3ddf1" stroke-width="3.5"/>
<rect x="609" y="101" width="14" height="14" fill="#d3ddf1" transform="rotate(20 616 108)"/>
<path d="M479.5 266 L607.5 266 A128 110.5 0 0 0 456.6 157.3 Z" fill="none" stroke="#f47a6a" stroke-width="4.2" stroke-linejoin="miter"/>
<path d="M507.5 263.5 L555.5 263.5 A48 45.5 0 0 0 496.5 219.4" fill="none" stroke="#fff" stroke-width="4"/>
<line x1="484.6" y1="200" x2="484.6" y2="347" stroke="#fff" stroke-width="4"/>
<circle cx="484.4" cy="199.6" r="6.8" fill="#fff"/>
<line x1="657.6" y1="294" x2="657.6" y2="325.5" stroke="#3f6fc6" stroke-width="4"/>
<circle cx="657.6" cy="294" r="6.2" fill="#3f6fc6"/>
<rect x="613.6" y="216" width="108.8" height="42" fill="#2a2a2a" fill-opacity="0.9"/>
<text x="625" y="244.5" font-size="30" font-weight="bold" font-style="italic" fill="#fff">θ</text>
<text x="642" y="250.7" font-size="17" font-weight="bold" fill="#fff">1</text>
<text x="659.5" y="243.5" font-size="28" font-weight="bold" fill="#fff">&gt;</text>
<text x="686" y="244.5" font-size="30" font-weight="bold" font-style="italic" fill="#f47a6a">θ</text>
<text x="701.5" y="251" font-size="17" font-weight="bold" fill="#f47a6a">2</text>
<text x="378" y="76" font-size="30.3" font-weight="bold" fill="#fff" text-anchor="start" >Target profile</text>
<text x="456.5" y="387.5" font-size="30" font-weight="bold" fill="#fff" text-anchor="start" >Type-2</text>
<text x="605" y="357" font-size="30" font-weight="bold" fill="#4472c4" text-anchor="start" stroke="#fff" stroke-width="1.6" paint-order="stroke" stroke-opacity="0.85">Deviation:</text>
<text x="629" y="388.6" font-size="30" font-weight="bold" fill="#4472c4" text-anchor="start" stroke="#fff" stroke-width="1.6" paint-order="stroke" stroke-opacity="0.85">Type-1</text>
<text x="777.5" y="356.2" font-size="30" font-weight="bold" fill="#fff" text-anchor="start" >2 μm</text>
<rect x="782" y="366" width="66" height="5.5" fill="#fff"/>
<clipPath id="c2"><rect x="346.7" y="460.6" width="544.3" height="362.4"/></clipPath>
<g clip-path="url(#c2)">
<rect x="346.7" y="460.6" width="544.3" height="362.4" fill="#909090"/>
<rect x="346.7" y="760" width="545" height="63" fill="#9a9a9a" opacity="0.35"/><g fill="#5a5a5a" opacity="0.45"><circle cx="694.6" cy="707.9" r="1.1"/><circle cx="469.0" cy="791.2" r="1.5"/><circle cx="831.6" cy="715.2" r="1.3"/><circle cx="364.2" cy="730.6" r="1.4"/><circle cx="362.4" cy="728.3" r="1.5"/><circle cx="643.4" cy="730.8" r="1.4"/><circle cx="786.7" cy="705.8" r="1.6"/><circle cx="726.4" cy="744.8" r="1.0"/><circle cx="866.8" cy="744.4" r="1.0"/><circle cx="400.4" cy="804.2" r="1.4"/><circle cx="785.5" cy="790.4" r="1.4"/><circle cx="875.4" cy="749.3" r="1.4"/><circle cx="797.5" cy="777.4" r="1.7"/><circle cx="660.9" cy="787.4" r="0.9"/><circle cx="471.5" cy="738.9" r="1.0"/><circle cx="474.2" cy="716.8" r="1.2"/><circle cx="692.5" cy="747.7" r="1.2"/><circle cx="461.6" cy="736.2" r="1.7"/><circle cx="699.2" cy="776.3" r="1.1"/><circle cx="743.2" cy="724.1" r="1.2"/><circle cx="884.3" cy="779.9" r="1.4"/><circle cx="719.1" cy="803.6" r="1.6"/><circle cx="472.1" cy="708.8" r="1.2"/><circle cx="493.1" cy="729.7" r="1.7"/><circle cx="823.0" cy="741.8" r="1.5"/><circle cx="562.4" cy="812.0" r="1.3"/><circle cx="491.6" cy="733.9" r="1.4"/><circle cx="490.4" cy="773.4" r="1.7"/><circle cx="564.5" cy="730.7" r="1.8"/><circle cx="624.2" cy="715.6" r="0.9"/><circle cx="407.4" cy="778.4" r="1.6"/><circle cx="576.8" cy="712.4" r="1.2"/><circle cx="887.9" cy="766.9" r="1.8"/><circle cx="814.5" cy="706.3" r="1.5"/><circle cx="717.5" cy="767.8" r="1.1"/><circle cx="695.4" cy="718.1" r="1.3"/><circle cx="593.9" cy="816.6" r="1.7"/><circle cx="490.8" cy="763.6" r="1.1"/><circle cx="842.6" cy="806.9" r="1.2"/><circle cx="694.3" cy="776.2" r="1.0"/><circle cx="761.3" cy="768.1" r="1.6"/><circle cx="635.5" cy="705.1" r="1.2"/><circle cx="358.6" cy="813.7" r="1.7"/><circle cx="798.8" cy="741.0" r="1.0"/><circle cx="823.9" cy="815.8" r="1.0"/><circle cx="611.4" cy="713.1" r="1.6"/><circle cx="763.1" cy="720.0" r="1.3"/><circle cx="646.0" cy="736.0" r="1.7"/><circle cx="577.3" cy="729.8" r="1.4"/><circle cx="743.6" cy="728.5" r="1.2"/><circle cx="887.4" cy="781.0" r="1.3"/><circle cx="628.5" cy="719.2" r="1.1"/><circle cx="531.2" cy="773.8" r="1.1"/><circle cx="467.4" cy="713.3" r="1.5"/><circle cx="472.1" cy="810.9" r="1.7"/><circle cx="386.4" cy="732.8" r="1.5"/><circle cx="464.1" cy="720.5" r="1.7"/><circle cx="657.5" cy="760.3" r="1.6"/><circle cx="785.7" cy="727.3" r="1.0"/><circle cx="581.6" cy="754.6" r="1.3"/><circle cx="743.2" cy="783.8" r="1.8"/><circle cx="401.3" cy="752.1" r="1.2"/><circle cx="815.0" cy="734.1" r="1.1"/><circle cx="591.1" cy="754.4" r="1.2"/><circle cx="483.4" cy="813.0" r="1.3"/><circle cx="814.9" cy="769.4" r="0.9"/><circle cx="889.6" cy="802.8" r="1.8"/><circle cx="850.1" cy="804.3" r="1.0"/><circle cx="611.2" cy="730.0" r="1.3"/><circle cx="379.8" cy="749.3" r="1.8"/><circle cx="491.7" cy="796.7" r="1.3"/><circle cx="577.3" cy="817.0" r="1.8"/><circle cx="649.2" cy="789.1" r="1.0"/><circle cx="508.8" cy="818.3" r="1.4"/><circle cx="641.9" cy="792.5" r="1.0"/><circle cx="664.6" cy="763.8" r="1.7"/><circle cx="433.3" cy="817.4" r="1.0"/><circle cx="448.7" cy="774.6" r="1.5"/><circle cx="475.5" cy="719.0" r="1.7"/><circle cx="481.4" cy="774.6" r="1.5"/><circle cx="575.2" cy="773.3" r="1.4"/><circle cx="854.6" cy="728.9" r="1.5"/><circle cx="477.4" cy="751.3" r="1.5"/><circle cx="510.6" cy="742.0" r="1.6"/><circle cx="387.3" cy="758.6" r="1.8"/><circle cx="887.9" cy="713.6" r="1.1"/><circle cx="491.7" cy="814.2" r="1.7"/><circle cx="824.6" cy="748.2" r="1.0"/><circle cx="799.9" cy="787.3" r="1.5"/><circle cx="883.1" cy="781.5" r="0.9"/><circle cx="790.9" cy="740.0" r="1.5"/><circle cx="856.9" cy="720.7" r="1.0"/><circle cx="406.0" cy="769.7" r="1.1"/><circle cx="675.8" cy="789.0" r="1.1"/><circle cx="691.8" cy="735.9" r="1.3"/><circle cx="838.7" cy="804.0" r="1.0"/><circle cx="577.6" cy="737.4" r="0.9"/><circle cx="765.9" cy="779.5" r="1.1"/><circle cx="749.7" cy="769.5" r="1.3"/><circle cx="353.2" cy="713.8" r="1.7"/><circle cx="837.9" cy="768.8" r="1.7"/><circle cx="663.7" cy="722.3" r="1.0"/><circle cx="515.1" cy="810.2" r="1.6"/><circle cx="814.5" cy="810.2" r="1.1"/><circle cx="483.2" cy="717.0" r="1.6"/><circle cx="827.2" cy="752.5" r="1.5"/><circle cx="431.8" cy="813.8" r="1.7"/><circle cx="877.1" cy="799.9" r="1.7"/><circle cx="361.4" cy="791.2" r="1.2"/><circle cx="852.5" cy="798.9" r="1.7"/><circle cx="787.4" cy="736.2" r="1.6"/><circle cx="406.6" cy="807.0" r="1.7"/><circle cx="468.6" cy="800.5" r="1.3"/><circle cx="513.4" cy="798.1" r="1.1"/><circle cx="360.8" cy="727.6" r="1.2"/><circle cx="816.5" cy="818.1" r="1.2"/><circle cx="695.7" cy="751.8" r="1.8"/><circle cx="638.6" cy="814.9" r="1.0"/><circle cx="874.0" cy="725.9" r="1.8"/><circle cx="491.9" cy="717.7" r="1.3"/><circle cx="742.9" cy="741.7" r="1.4"/><circle cx="625.2" cy="750.1" r="1.4"/><circle cx="486.1" cy="787.9" r="0.9"/><circle cx="849.7" cy="768.0" r="1.5"/><circle cx="750.1" cy="783.5" r="1.2"/><circle cx="385.9" cy="782.7" r="1.2"/><circle cx="518.1" cy="804.2" r="1.5"/><circle cx="510.8" cy="741.2" r="1.3"/><circle cx="566.1" cy="739.6" r="1.0"/><circle cx="575.9" cy="815.0" r="1.5"/><circle cx="837.3" cy="777.0" r="1.2"/><circle cx="645.0" cy="705.0" r="1.2"/><circle cx="581.0" cy="772.9" r="1.5"/><circle cx="600.0" cy="756.7" r="1.1"/><circle cx="604.5" cy="810.4" r="1.6"/><circle cx="440.0" cy="714.9" r="1.4"/><circle cx="691.1" cy="744.2" r="1.6"/><circle cx="755.1" cy="783.7" r="1.1"/><circle cx="455.9" cy="707.9" r="1.1"/><circle cx="605.5" cy="804.4" r="1.0"/><circle cx="572.6" cy="778.7" r="1.1"/><circle cx="725.4" cy="762.8" r="1.1"/><circle cx="703.6" cy="705.6" r="1.6"/><circle cx="765.4" cy="717.5" r="1.3"/><circle cx="443.3" cy="817.1" r="1.4"/><circle cx="375.2" cy="734.2" r="1.7"/><circle cx="595.4" cy="798.8" r="1.5"/><circle cx="883.4" cy="774.7" r="1.8"/><circle cx="831.2" cy="776.7" r="1.5"/><circle cx="621.6" cy="802.2" r="1.4"/><circle cx="834.3" cy="792.0" r="1.3"/><circle cx="488.5" cy="733.9" r="1.5"/><circle cx="763.1" cy="766.0" r="1.5"/><circle cx="496.8" cy="714.1" r="1.2"/><circle cx="495.3" cy="742.4" r="1.4"/><circle cx="423.0" cy="732.1" r="1.5"/><circle cx="730.9" cy="712.5" r="1.3"/><circle cx="642.1" cy="753.6" r="1.1"/><circle cx="575.7" cy="810.9" r="1.4"/><circle cx="725.0" cy="805.2" r="1.6"/><circle cx="554.2" cy="705.7" r="1.2"/><circle cx="756.4" cy="804.9" r="1.8"/><circle cx="575.1" cy="792.5" r="1.4"/><circle cx="675.0" cy="730.8" r="1.1"/><circle cx="584.2" cy="708.4" r="1.2"/><circle cx="716.1" cy="752.3" r="1.0"/><circle cx="601.3" cy="719.9" r="1.5"/><circle cx="362.6" cy="751.1" r="1.4"/><circle cx="362.7" cy="780.2" r="1.0"/><circle cx="598.2" cy="710.9" r="1.2"/></g><rect x="655" y="700" width="134" height="42" fill="#6e6e6e" opacity="0.45" filter="url(#glow)"/><path d="M731 700 L745 700 L766 788 L752 790 Z" fill="#6a6a6a" opacity="0.6" filter="url(#glow)"/><path d="M758 772 C770 764 790 768 796 780 C802 795 798 812 786 818 C772 824 756 818 752 806 C748 794 750 778 758 772 Z" fill="#555" opacity="0.8" filter="url(#glow)"/>
<rect x="346.7" y="531.5" width="544.3" height="291.5" filter="url(#noise)" opacity="0.5"/>
<path d="M449.5 529 C449.7 530.23 449.58 530.62 450.7 536.4 C451.82 542.18 454.18 554.6 456.2 563.7 C458.22 572.8 460.8 581 462.8 591 C464.8 601 465.85 614.62 468.2 623.7 C470.55 632.78 473.8 638.22 476.9 645.5 C480 652.78 484.07 661.02 486.8 667.4 C489.53 673.78 490.93 679.43 493.3 683.8 C495.67 688.17 497.9 692.33 501 693.6 C504.1 694.87 508.27 691.4 511.9 691.4 C515.53 691.4 518.25 692.68 522.8 693.6 C527.35 694.52 534.67 695.52 539.2 696.9 C543.73 698.28 544.82 701.63 550 701.9 C555.18 702.17 563.55 699.4 570.3 698.5 C577.05 697.6 584.42 696.5 590.5 696.5 C596.58 696.5 601.17 697.6 606.8 698.5 C612.43 699.4 618 702.02 624.3 701.9 C630.6 701.78 637.83 699.83 644.6 697.8 C651.37 695.77 659.27 691.17 664.9 689.7 C670.53 688.23 672.78 688.55 678.4 689 C684.02 689.45 691.85 691.27 698.6 692.4 C705.35 693.53 712.58 695.12 718.9 695.8 C725.22 696.48 731.98 697.97 736.5 696.5 C741.02 695.03 743.3 690.15 746 687 C748.7 683.85 750.9 682.1 752.7 677.6 C754.5 673.1 755.45 665.65 756.8 660 C758.15 654.35 759.12 650.45 760.8 643.7 C762.48 636.95 764.88 628.07 766.9 619.5 C768.92 610.93 770.88 601.38 772.9 592.3 C774.92 583.22 777.23 573.58 779 565 C780.77 556.42 782.4 546.45 783.5 540.8 C784.6 535.15 785.18 533.4 785.6 531.1 C786.02 528.8 785.93 527.68 786 527" fill="none" stroke="#fff" stroke-width="7" stroke-opacity="0.55" filter="url(#glow)"/>
<path d="M436 529 C436.08 530.05 435.13 529.52 436.5 535.3 C437.87 541.08 441.65 553.52 444.2 563.7 C446.75 573.88 449.07 585.48 451.8 596.4 C454.53 607.32 457.32 618.28 460.6 629.2 C463.88 640.12 468.23 652.45 471.5 661.9 C474.77 671.35 476.93 680.08 480.2 685.9 C483.47 691.72 486.73 694.45 491.1 696.8 C495.47 699.15 500.2 699.1 506.4 700 C512.6 700.9 521.03 701.03 528.3 702.2 C535.57 703.37 543 706.78 550 707 C557 707.22 563.55 704.42 570.3 703.5 C577.05 702.58 584.42 701.5 590.5 701.5 C596.58 701.5 601.17 702.58 606.8 703.5 C612.43 704.42 618 707.08 624.3 707 C630.6 706.92 637.83 705 644.6 703 C651.37 701 659.27 696.42 664.9 695 C670.53 693.58 672.78 694.08 678.4 694.5 C684.02 694.92 691.85 696.42 698.6 697.5 C705.35 698.58 712.58 700.33 718.9 701 C725.22 701.67 731.48 703 736.5 701.5 C741.52 700 745.67 695.58 749 692 C752.33 688.42 754.62 685 756.5 680 C758.38 675 759 667.83 760.3 662 C761.6 656.17 762.62 651.92 764.3 645 C765.98 638.08 768.38 629.12 770.4 620.5 C772.42 611.88 774.38 602.38 776.4 593.3 C778.42 584.22 780.73 574.58 782.5 566 C784.27 557.42 785.9 547.62 787 541.8 C788.1 535.98 788.68 533.57 789.1 531.1 C789.52 528.63 789.43 527.68 789.5 527" fill="none" stroke="#fff" stroke-width="6" stroke-opacity="0.5" filter="url(#glow)"/>
<path d="M436 529 C436.08 530.05 435.13 529.52 436.5 535.3 C437.87 541.08 441.65 553.52 444.2 563.7 C446.75 573.88 449.07 585.48 451.8 596.4 C454.53 607.32 457.32 618.28 460.6 629.2 C463.88 640.12 468.23 652.45 471.5 661.9 C474.77 671.35 476.93 680.08 480.2 685.9 C483.47 691.72 486.73 694.45 491.1 696.8 C495.47 699.15 500.2 699.1 506.4 700 C512.6 700.9 521.03 701.03 528.3 702.2 C535.57 703.37 543 706.78 550 707 C557 707.22 563.55 704.42 570.3 703.5 C577.05 702.58 584.42 701.5 590.5 701.5 C596.58 701.5 601.17 702.58 606.8 703.5 C612.43 704.42 618 707.08 624.3 707 C630.6 706.92 637.83 705 644.6 703 C651.37 701 659.27 696.42 664.9 695 C670.53 693.58 672.78 694.08 678.4 694.5 C684.02 694.92 691.85 696.42 698.6 697.5 C705.35 698.58 712.58 700.33 718.9 701 C725.22 701.67 731.48 703 736.5 701.5 C741.52 700 745.67 695.58 749 692 C752.33 688.42 754.62 685 756.5 680 C758.38 675 759 667.83 760.3 662 C761.6 656.17 762.62 651.92 764.3 645 C765.98 638.08 768.38 629.12 770.4 620.5 C772.42 611.88 774.38 602.38 776.4 593.3 C778.42 584.22 780.73 574.58 782.5 566 C784.27 557.42 785.9 547.62 787 541.8 C788.1 535.98 788.68 533.57 789.1 531.1 C789.52 528.63 789.43 527.68 789.5 527 L789.5 519.5 L436 519.5Z" fill="#fff"/>
<path d="M449.5 529 C449.7 530.23 449.58 530.62 450.7 536.4 C451.82 542.18 454.18 554.6 456.2 563.7 C458.22 572.8 460.8 581 462.8 591 C464.8 601 465.85 614.62 468.2 623.7 C470.55 632.78 473.8 638.22 476.9 645.5 C480 652.78 484.07 661.02 486.8 667.4 C489.53 673.78 490.93 679.43 493.3 683.8 C495.67 688.17 497.9 692.33 501 693.6 C504.1 694.87 508.27 691.4 511.9 691.4 C515.53 691.4 518.25 692.68 522.8 693.6 C527.35 694.52 534.67 695.52 539.2 696.9 C543.73 698.28 544.82 701.63 550 701.9 C555.18 702.17 563.55 699.4 570.3 698.5 C577.05 697.6 584.42 696.5 590.5 696.5 C596.58 696.5 601.17 697.6 606.8 698.5 C612.43 699.4 618 702.02 624.3 701.9 C630.6 701.78 637.83 699.83 644.6 697.8 C651.37 695.77 659.27 691.17 664.9 689.7 C670.53 688.23 672.78 688.55 678.4 689 C684.02 689.45 691.85 691.27 698.6 692.4 C705.35 693.53 712.58 695.12 718.9 695.8 C725.22 696.48 731.98 697.97 736.5 696.5 C741.02 695.03 743.3 690.15 746 687 C748.7 683.85 750.9 682.1 752.7 677.6 C754.5 673.1 755.45 665.65 756.8 660 C758.15 654.35 759.12 650.45 760.8 643.7 C762.48 636.95 764.88 628.07 766.9 619.5 C768.92 610.93 770.88 601.38 772.9 592.3 C774.92 583.22 777.23 573.58 779 565 C780.77 556.42 782.4 546.45 783.5 540.8 C784.6 535.15 785.18 533.4 785.6 531.1 C786.02 528.8 785.93 527.68 786 527 L786 519.5 L449.5 519.5Z" fill="#000"/>
<rect x="346.7" y="460.6" width="544.3" height="70.9" fill="#000"/>
</g>
<path d="M444.4 536.3 L785 536.3 L753 693 L479 693 Z" fill="none" stroke="#d3ddf1" stroke-width="4" stroke-dasharray="14.6 11.8"/>
<text x="793" y="778.4" font-size="30" font-weight="bold" fill="#fff" text-anchor="start" >2 μm</text>
<rect x="795.6" y="790.5" width="65.6" height="6" fill="#fff"/>
<mask id="bm1" maskUnits="userSpaceOnUse" x="0" y="0" width="1850" height="1833"><rect x="0" y="0" width="1850" height="1833" fill="#fff"/><rect x="10" y="184" width="428" height="224.5" fill="#000"/></mask>
<rect x="13" y="188" width="428" height="224.5" fill="#000" opacity="0.38" filter="url(#blur3)" mask="url(#bm1)"/>
<rect x="10" y="184" width="428" height="224.5" fill="#f9f9f9" fill-opacity="0.95" stroke="#1f3561" stroke-width="2.6"/>
<path d="M32.6 207.8 L418.6 207.8 L381.4 387.7 L69 387.7 Z" fill="url(#g1)"/>
<text x="149" y="248.4" font-size="30" font-weight="bold" fill="#6f6f6f" text-anchor="start" >Initial spot</text>
<path d="M69 386.4 L140.5 386.4 A71.5 61 0 0 0 57.2 326.5 Z" fill="none" stroke="#f47a6a" stroke-width="3.8"/>
<rect x="75.5" y="334.5" width="52.5" height="41.5" fill="#fff" fill-opacity="0.13"/>
<text x="79.5" y="370" font-size="28" font-weight="bold" font-style="italic" fill="#f47a6a">θ</text>
<text x="96" y="376" font-size="18" font-weight="bold" fill="#f47a6a">2</text>
<mask id="bm2" maskUnits="userSpaceOnUse" x="0" y="0" width="1850" height="1833"><rect x="0" y="0" width="1850" height="1833" fill="#fff"/><rect x="10" y="610.3" width="428" height="223.7" fill="#000"/></mask>
<rect x="13" y="614.3" width="428" height="223.7" fill="#000" opacity="0.38" filter="url(#blur3)" mask="url(#bm2)"/>
<rect x="10" y="610.3" width="428" height="223.7" fill="#f9f9f9" fill-opacity="0.95" stroke="#1f3561" stroke-width="2.6"/>
<path d="M32.6 622 L421 622 L409.8 802.8 L326.2 783.4 C300 780 250 777.7 223.3 777.7 C190 777.7 150 779 140.5 780.2 L109.2 784 L46 802.8 Z" fill="url(#g2)"/>
<path d="M33.9 622 L421.6 622 L380.2 803.3 L72.8 803.3 Z" fill="none" stroke="#b2c4e9" stroke-width="4" stroke-dasharray="15 11.5" stroke-dashoffset="7"/>
<text x="116" y="685.6" font-size="30" font-weight="bold" fill="#fff" text-anchor="start" >Optimized spot</text>
<path d="M199.5 369 L248.4 369 L248.4 570 L264 570 L224 650.4 L183.7 570 L199.5 570 Z" fill="url(#arrowg)"/>
<clipPath id="c3"><rect x="371.7" y="932.3" width="547.5" height="420.6"/></clipPath>
<g clip-path="url(#c3)">
<rect x="371.7" y="932.3" width="547.5" height="420.6" fill="#9b9b9b"/>
<g fill="none" stroke="#b8b8b8" filter="url(#glow)"><path d="M506 1055 C501 1120 493 1180 486 1230 C480 1280 478 1320 477 1352" stroke-width="8" opacity="0.75"/><path d="M494 1150 C482 1200 472 1250 469 1300 L468 1352" stroke-width="5" opacity="0.65"/><path d="M478 1190 C466 1230 460 1270 460 1352" stroke-width="3" opacity="0.45"/><path d="M549 1135 C546 1200 549 1260 553 1352" stroke-width="7" opacity="0.6"/><path d="M541 1230 C537 1270 539 1310 541 1352" stroke-width="3" opacity="0.4"/></g><rect x="371.7" y="987" width="30" height="366" fill="#888" opacity="0.35"/>
<rect x="371.7" y="987.2" width="547.5" height="365.7" filter="url(#noise)" opacity="0.25"/>
<path d="M509 985 C509.33 985.37 509.13 984.68 511 987.2 C512.87 989.72 516.62 991.78 520.2 1000.1 C523.78 1008.42 528.38 1024.77 532.5 1037.1 C536.62 1049.43 541.3 1061.78 544.9 1074.1 C548.5 1086.42 551.02 1097.65 554.1 1111 C557.18 1124.35 560.32 1139.82 563.4 1154.2 C566.48 1168.58 570.03 1183.95 572.6 1197.3 C575.17 1210.65 577 1221.97 578.8 1234.3 C580.6 1246.63 582.12 1262.07 583.4 1271.3 C584.68 1280.53 585.73 1282 586.5 1289.7 C587.27 1297.4 586.22 1310.82 588 1317.5 C589.78 1324.18 594.12 1326.73 597.2 1329.8 C600.28 1332.87 603.42 1335.9 606.5 1335.9 C609.58 1335.9 612.1 1332.37 615.7 1329.8 C619.3 1327.23 624.5 1323.05 628.1 1320.5 C631.7 1317.95 635 1315.93 637.3 1314.5 C639.6 1313.07 639.33 1311.9 641.9 1311.9 C644.47 1311.9 648.33 1313.07 652.7 1314.5 C657.07 1315.93 662.97 1318.98 668.1 1320.5 C673.23 1322.02 679.4 1324.1 683.5 1323.6 C687.6 1323.1 690.13 1321.08 692.7 1317.5 C695.27 1313.92 697.2 1306.73 698.9 1302.1 C700.6 1297.47 701.35 1296.9 702.9 1289.7 C704.45 1282.5 705.78 1271.22 708.2 1258.9 C710.62 1246.58 713.82 1231.2 717.4 1215.8 C720.98 1200.4 725.6 1182.93 729.7 1166.5 C733.8 1150.07 737.9 1132.6 742 1117.2 C746.1 1101.8 750.2 1088.48 754.3 1074.1 C758.4 1059.72 763.02 1043.23 766.6 1030.9 C770.18 1018.57 773.48 1007.38 775.8 1000.1 C778.12 992.82 779.47 989.72 780.5 987.2 C781.53 984.68 781.75 985.37 782 985" fill="none" stroke="#fff" stroke-width="7" stroke-opacity="0.55" filter="url(#glow)"/>
<path d="M509 985 C509.33 985.37 509.13 984.68 511 987.2 C512.87 989.72 516.62 991.78 520.2 1000.1 C523.78 1008.42 528.38 1024.77 532.5 1037.1 C536.62 1049.43 541.3 1061.78 544.9 1074.1 C548.5 1086.42 551.02 1097.65 554.1 1111 C557.18 1124.35 560.32 1139.82 563.4 1154.2 C566.48 1168.58 570.03 1183.95 572.6 1197.3 C575.17 1210.65 577 1221.97 578.8 1234.3 C580.6 1246.63 582.12 1262.07 583.4 1271.3 C584.68 1280.53 585.73 1282 586.5 1289.7 C587.27 1297.4 586.22 1310.82 588 1317.5 C589.78 1324.18 594.12 1326.73 597.2 1329.8 C600.28 1332.87 603.42 1335.9 606.5 1335.9 C609.58 1335.9 612.1 1332.37 615.7 1329.8 C619.3 1327.23 624.5 1323.05 628.1 1320.5 C631.7 1317.95 635 1315.93 637.3 1314.5 C639.6 1313.07 639.33 1311.9 641.9 1311.9 C644.47 1311.9 648.33 1313.07 652.7 1314.5 C657.07 1315.93 662.97 1318.98 668.1 1320.5 C673.23 1322.02 679.4 1324.1 683.5 1323.6 C687.6 1323.1 690.13 1321.08 692.7 1317.5 C695.27 1313.92 697.2 1306.73 698.9 1302.1 C700.6 1297.47 701.35 1296.9 702.9 1289.7 C704.45 1282.5 705.78 1271.22 708.2 1258.9 C710.62 1246.58 713.82 1231.2 717.4 1215.8 C720.98 1200.4 725.6 1182.93 729.7 1166.5 C733.8 1150.07 737.9 1132.6 742 1117.2 C746.1 1101.8 750.2 1088.48 754.3 1074.1 C758.4 1059.72 763.02 1043.23 766.6 1030.9 C770.18 1018.57 773.48 1007.38 775.8 1000.1 C778.12 992.82 779.47 989.72 780.5 987.2 C781.53 984.68 781.75 985.37 782 985 L782 975.2 L509 975.2Z" fill="#000"/>
<path d="M509 985 C509.33 985.37 509.13 984.68 511 987.2 C512.87 989.72 516.62 991.78 520.2 1000.1 C523.78 1008.42 528.38 1024.77 532.5 1037.1 C536.62 1049.43 541.3 1061.78 544.9 1074.1 C548.5 1086.42 551.02 1097.65 554.1 1111 C557.18 1124.35 560.32 1139.82 563.4 1154.2 C566.48 1168.58 570.03 1183.95 572.6 1197.3 C575.17 1210.65 577 1221.97 578.8 1234.3 C580.6 1246.63 582.12 1262.07 583.4 1271.3 C584.68 1280.53 585.73 1282 586.5 1289.7 C587.27 1297.4 586.22 1310.82 588 1317.5 C589.78 1324.18 594.12 1326.73 597.2 1329.8 C600.28 1332.87 603.42 1335.9 606.5 1335.9 C609.58 1335.9 612.1 1332.37 615.7 1329.8 C619.3 1327.23 624.5 1323.05 628.1 1320.5 C631.7 1317.95 635 1315.93 637.3 1314.5 C639.6 1313.07 639.33 1311.9 641.9 1311.9 C644.47 1311.9 648.33 1313.07 652.7 1314.5 C657.07 1315.93 662.97 1318.98 668.1 1320.5 C673.23 1322.02 679.4 1324.1 683.5 1323.6 C687.6 1323.1 690.13 1321.08 692.7 1317.5 C695.27 1313.92 697.2 1306.73 698.9 1302.1 C700.6 1297.47 701.35 1296.9 702.9 1289.7 C704.45 1282.5 705.78 1271.22 708.2 1258.9 C710.62 1246.58 713.82 1231.2 717.4 1215.8 C720.98 1200.4 725.6 1182.93 729.7 1166.5 C733.8 1150.07 737.9 1132.6 742 1117.2 C746.1 1101.8 750.2 1088.48 754.3 1074.1 C758.4 1059.72 763.02 1043.23 766.6 1030.9 C770.18 1018.57 773.48 1007.38 775.8 1000.1 C778.12 992.82 779.47 989.72 780.5 987.2 C781.53 984.68 781.75 985.37 782 985" fill="none" stroke="#fff" stroke-width="3"/>
<rect x="371.7" y="932.3" width="547.5" height="54.9" fill="#000"/>
</g>
<path d="M509.4 986.9 L784.6 986.9 L711.2 1287.3 L581.8 1287.3 Z" fill="none" stroke="#d3ddf1" stroke-width="4" stroke-dasharray="14.6 11.8"/>
<line x1="642" y1="1311.9" x2="756.5" y2="1228" stroke="#f5b400" stroke-width="4"/>
<circle cx="642" cy="1311.9" r="6.5" fill="#f5b400"/>
<text x="825.5" y="1211" font-size="30" font-weight="bold" fill="#f5b400" text-anchor="middle" >Deviation:</text>
<text x="826.5" y="1247" font-size="30" font-weight="bold" fill="#f5b400" text-anchor="middle" >Type-3</text>
<text x="815" y="1314" font-size="30" font-weight="bold" fill="#fff" text-anchor="start" >2 μm</text>
<rect x="823" y="1327.3" width="53.7" height="6.2" fill="#fff"/>
<clipPath id="c4"><rect x="371.7" y="1387.3" width="547.5" height="420"/></clipPath>
<g clip-path="url(#c4)">
<rect x="371.7" y="1387.3" width="547.5" height="420" fill="#969696"/>
<path d="M455 1444 L450 1807" stroke="#a8a8a8" stroke-width="6" opacity="0.5"/><path d="M860 1444 L870 1807 M880 1444 L885 1807 M895 1444 L898 1807" stroke="#a5a5a5" stroke-width="3" opacity="0.5"/>
<rect x="371.7" y="1444.3" width="547.5" height="363" filter="url(#noise)" opacity="0.25"/>
<path d="M512 1441 C512.33 1441.55 511.6 1439.9 514 1444.3 C516.4 1448.7 523.32 1458.42 526.4 1467.4 C529.48 1476.38 529.42 1484.85 532.5 1498.2 C535.58 1511.55 540.78 1531.07 544.9 1547.5 C549.02 1563.93 553.1 1580.37 557.2 1596.8 C561.3 1613.23 565.9 1629.15 569.5 1646.1 C573.1 1663.05 575.47 1682.07 578.8 1698.5 C582.13 1714.93 586.43 1736.23 589.5 1744.7 C592.57 1753.17 586.28 1748.75 597.2 1749.3 C608.12 1749.85 635.48 1748.5 655 1748 C674.52 1747.5 702.87 1749.42 714.3 1746.3 C725.73 1743.18 720 1740.35 723.6 1729.3 C727.2 1718.25 731.8 1696.95 735.9 1680 C740 1663.05 744.1 1645.05 748.2 1627.6 C752.3 1610.15 756.38 1592.75 760.5 1575.3 C764.62 1557.85 769.3 1538.82 772.9 1522.9 C776.5 1506.98 779.28 1492.9 782.1 1479.8 C784.92 1466.7 788.32 1450.77 789.8 1444.3 C791.28 1437.83 790.8 1441.55 791 1441" fill="none" stroke="#fff" stroke-width="7" stroke-opacity="0.55" filter="url(#glow)"/>
<path d="M512 1441 C512.33 1441.55 511.6 1439.9 514 1444.3 C516.4 1448.7 523.32 1458.42 526.4 1467.4 C529.48 1476.38 529.42 1484.85 532.5 1498.2 C535.58 1511.55 540.78 1531.07 544.9 1547.5 C549.02 1563.93 553.1 1580.37 557.2 1596.8 C561.3 1613.23 565.9 1629.15 569.5 1646.1 C573.1 1663.05 575.47 1682.07 578.8 1698.5 C582.13 1714.93 586.43 1736.23 589.5 1744.7 C592.57 1753.17 586.28 1748.75 597.2 1749.3 C608.12 1749.85 635.48 1748.5 655 1748 C674.52 1747.5 702.87 1749.42 714.3 1746.3 C725.73 1743.18 720 1740.35 723.6 1729.3 C727.2 1718.25 731.8 1696.95 735.9 1680 C740 1663.05 744.1 1645.05 748.2 1627.6 C752.3 1610.15 756.38 1592.75 760.5 1575.3 C764.62 1557.85 769.3 1538.82 772.9 1522.9 C776.5 1506.98 779.28 1492.9 782.1 1479.8 C784.92 1466.7 788.32 1450.77 789.8 1444.3 C791.28 1437.83 790.8 1441.55 791 1441 L791 1432.3 L512 1432.3Z" fill="#000"/>
<path d="M512 1441 C512.33 1441.55 511.6 1439.9 514 1444.3 C516.4 1448.7 523.32 1458.42 526.4 1467.4 C529.48 1476.38 529.42 1484.85 532.5 1498.2 C535.58 1511.55 540.78 1531.07 544.9 1547.5 C549.02 1563.93 553.1 1580.37 557.2 1596.8 C561.3 1613.23 565.9 1629.15 569.5 1646.1 C573.1 1663.05 575.47 1682.07 578.8 1698.5 C582.13 1714.93 586.43 1736.23 589.5 1744.7 C592.57 1753.17 586.28 1748.75 597.2 1749.3 C608.12 1749.85 635.48 1748.5 655 1748 C674.52 1747.5 702.87 1749.42 714.3 1746.3 C725.73 1743.18 720 1740.35 723.6 1729.3 C727.2 1718.25 731.8 1696.95 735.9 1680 C740 1663.05 744.1 1645.05 748.2 1627.6 C752.3 1610.15 756.38 1592.75 760.5 1575.3 C764.62 1557.85 769.3 1538.82 772.9 1522.9 C776.5 1506.98 779.28 1492.9 782.1 1479.8 C784.92 1466.7 788.32 1450.77 789.8 1444.3 C791.28 1437.83 790.8 1441.55 791 1441" fill="none" stroke="#fff" stroke-width="3"/>
<rect x="371.7" y="1387.3" width="547.5" height="57" fill="#000"/>
</g>
<path d="M517 1445.2 L788.3 1445.2 L715.9 1746.9 L592.6 1746.9 Z" fill="none" stroke="#d3ddf1" stroke-width="4" stroke-dasharray="14.6 11.8"/>
<text x="815" y="1769.4" font-size="30" font-weight="bold" fill="#fff" text-anchor="start" >2 μm</text>
<rect x="823" y="1783.2" width="53.7" height="5.6" fill="#fff"/>
<mask id="bm3" maskUnits="userSpaceOnUse" x="0" y="0" width="1850" height="1833"><rect x="0" y="0" width="1850" height="1833" fill="#fff"/><rect x="14.3" y="975.7" width="382.7" height="386" fill="#000"/></mask>
<rect x="17.3" y="979.7" width="382.7" height="386" fill="#000" opacity="0.38" filter="url(#blur3)" mask="url(#bm3)"/>
<rect x="14.3" y="975.7" width="382.7" height="386" fill="#f9f9f9" fill-opacity="0.95" stroke="#1f3561" stroke-width="2.6"/>
<path d="M45.2 997.8 L366.9 997.8 L285.6 1350.4 L126.7 1350.4 Z" fill="url(#g3)"/>
<text x="130.5" y="1045.5" font-size="30" font-weight="bold" fill="#6f6f6f" text-anchor="start" >Initial spot</text>
<mask id="bm4" maskUnits="userSpaceOnUse" x="0" y="0" width="1850" height="1833"><rect x="0" y="0" width="1850" height="1833" fill="#fff"/><rect x="14.2" y="1432.2" width="383.1" height="385.8" fill="#000"/></mask>
<rect x="17.2" y="1436.2" width="383.1" height="385.8" fill="#000" opacity="0.38" filter="url(#blur3)" mask="url(#bm4)"/>
<rect x="14.2" y="1432.2" width="383.1" height="385.8" fill="#f9f9f9" fill-opacity="0.95" stroke="#1f3561" stroke-width="2.6"/>
<path d="M41.3 1440.5 L370.7 1440.5 L330.2 1774 L300 1770 L240 1768 L170 1769 L125 1773 L104.5 1780.5 L85.1 1774 Z" fill="url(#g4)"/>
<path d="M43.9 1442 L367.6 1442 L283.8 1794.7 L127.7 1794.7 Z" fill="none" stroke="#8fa8e0" stroke-width="4.5" stroke-dasharray="14.7 11.9"/>
<text x="98" y="1480.7" font-size="30" font-weight="bold" fill="#fff" text-anchor="start" >Optimized spot</text>
<path d="M181.2 1329.6 L230.4 1329.6 L230.4 1385 L245.9 1385 L206.4 1454 L165.9 1385 L181.2 1385 Z" fill="url(#arrowg)"/>
<rect x="1274.8" y="40.6" width="44.8" height="733.7" fill="#f3f3f4"/>
<rect x="1319.6" y="40.6" width="290" height="733.7" fill="#e6ecf6"/>
<rect x="1609.6" y="40.6" width="39.4" height="733.7" fill="#f3f3f4"/>
<rect x="1275.2" y="964.2" width="88.4" height="764.3" fill="#f3f3f4"/>
<rect x="1363.6" y="964.2" width="201.6" height="764.3" fill="#fdf8ec"/>
<rect x="1565.2" y="964.2" width="83.5" height="764.3" fill="#f3f3f4"/>
<path d="M1101 69.4 L1281 69.4 L1319.1 216.6 L1610.6 216.6 L1647.7 69.4 L1828.6 69.4 L1828.6 360.3 L1101 360.3Z" fill="url(#hatch)"/>
<path d="M1101 69.4 L1281 69.4 L1319.1 216.6 L1610.6 216.6 L1647.7 69.4 L1828.6 69.4" fill="none" stroke="#93acdf" stroke-width="5" stroke-linejoin="round" stroke-linecap="butt" stroke-opacity="1.0"/>
<path d="M1101 69.4 L1278.7 67.9 L1280.9 77.5 L1286.4 86.2 L1294 96 L1302.7 110.2 L1311.5 126.6 L1320.2 145.1 L1328.9 165.8 L1337.6 187.7 L1344.2 206.2 L1348.6 216 L1357.3 222.6 L1368.2 229.1 L1379.1 235.7 L1390 240.6 L1400.9 243.3 L1422.8 244.4 L1439.1 245.5 L1450 247.7 L1460 247.7 L1476.4 248.2 L1494.9 245.5 L1520 244.9 L1534.2 241.1 L1547.3 234.6 L1563.7 224.8 L1574.6 216 L1582.2 201.8 L1588.7 182.2 L1596.4 161.5 L1605.1 139.7 L1614.9 114.6 L1625.9 96 L1634.6 84 L1640 78.5 L1646 71 L1648 69.4 L1828.6 69.4" fill="none" stroke="#2e2e2e" stroke-width="4.9" stroke-linejoin="round" stroke-linecap="butt" stroke-opacity="0.95"/>
<path d="M1101 69.4 L1270 69.6 L1282 68.7 L1285.3 76.4 L1288 92.7 L1290.7 109.1 L1294 125.5 L1297.3 138.6 L1300.6 152.7 L1302.7 160.4 L1307.1 170.2 L1311.5 178.9 L1315.8 193.1 L1319.1 198.6 L1324.6 204 L1331.1 211.7 L1337.6 216 L1344.2 216 L1351.8 214.9 L1359.5 213.3 L1366 216 L1373.7 219.3 L1384.6 221.3 L1398.8 223.1 L1408.6 222.8 L1417.3 218.8 L1428.2 217.7 L1440.2 216.6 L1455.5 219.8 L1472 224.8 L1481.8 221.5 L1490.6 217.1 L1503.6 214.4 L1520 211.1 L1529.8 211.7 L1541.8 214.9 L1552.7 214.9 L1566.9 216 L1575.7 218.8 L1585.5 219.3 L1594.2 214.9 L1601.8 205.1 L1609.5 195.3 L1614.9 182.2 L1619.3 169.1 L1624.8 158.2 L1629.1 136.4 L1633.5 114.6 L1637.8 92.7 L1641.1 77.5 L1645.5 68.7 L1660 69.3 L1828.6 69.4" fill="none" stroke="#c8000c" stroke-width="4.9" stroke-linejoin="round" stroke-linecap="butt" stroke-opacity="0.88"/>
<rect x="1115.8" y="224.3" width="220.6" height="122.1" fill="#fff" fill-opacity="0.82" stroke="#000" stroke-width="1.8"/>
<line x1="1126.4" y1="244.2" x2="1167.6" y2="244.2" stroke="#93acdf" stroke-width="4.6"/>
<text x="1172" y="256.2" font-size="30" font-weight="bold">Target</text>
<line x1="1126.4" y1="284.9" x2="1167.6" y2="284.9" stroke="#2e2e2e" stroke-width="4.6"/>
<text x="1172" y="296.9" font-size="30" font-weight="bold">Initial</text>
<line x1="1126.4" y1="326.5" x2="1167.6" y2="326.5" stroke="#c8000c" stroke-width="4.6"/>
<text x="1172" y="338.5" font-size="30" font-weight="bold">Optimized</text>
<line x1="1137.38" y1="360.3" x2="1137.38" y2="353.8" stroke="#000" stroke-width="2.6"/>
<line x1="1173.76" y1="360.3" x2="1173.76" y2="353.8" stroke="#000" stroke-width="2.6"/>
<line x1="1210.14" y1="360.3" x2="1210.14" y2="353.8" stroke="#000" stroke-width="2.6"/>
<line x1="1246.52" y1="360.3" x2="1246.52" y2="353.8" stroke="#000" stroke-width="2.6"/>
<line x1="1319.28" y1="360.3" x2="1319.28" y2="353.8" stroke="#000" stroke-width="2.6"/>
<line x1="1355.66" y1="360.3" x2="1355.66" y2="353.8" stroke="#000" stroke-width="2.6"/>
<line x1="1392.04" y1="360.3" x2="1392.04" y2="353.8" stroke="#000" stroke-width="2.6"/>
<line x1="1428.42" y1="360.3" x2="1428.42" y2="353.8" stroke="#000" stroke-width="2.6"/>
<line x1="1501.18" y1="360.3" x2="1501.18" y2="353.8" stroke="#000" stroke-width="2.6"/>
<line x1="1537.56" y1="360.3" x2="1537.56" y2="353.8" stroke="#000" stroke-width="2.6"/>
<line x1="1573.94" y1="360.3" x2="1573.94" y2="353.8" stroke="#000" stroke-width="2.6"/>
<line x1="1610.32" y1="360.3" x2="1610.32" y2="353.8" stroke="#000" stroke-width="2.6"/>
<line x1="1683.08" y1="360.3" x2="1683.08" y2="353.8" stroke="#000" stroke-width="2.6"/>
<line x1="1719.46" y1="360.3" x2="1719.46" y2="353.8" stroke="#000" stroke-width="2.6"/>
<line x1="1755.84" y1="360.3" x2="1755.84" y2="353.8" stroke="#000" stroke-width="2.6"/>
<line x1="1792.22" y1="360.3" x2="1792.22" y2="353.8" stroke="#000" stroke-width="2.6"/>
<line x1="1101" y1="360.3" x2="1101" y2="351.3" stroke="#000" stroke-width="2.6"/>
<line x1="1282.9" y1="360.3" x2="1282.9" y2="351.3" stroke="#000" stroke-width="2.6"/>
<line x1="1464.8" y1="360.3" x2="1464.8" y2="351.3" stroke="#000" stroke-width="2.6"/>
<line x1="1646.7" y1="360.3" x2="1646.7" y2="351.3" stroke="#000" stroke-width="2.6"/>
<line x1="1828.6" y1="360.3" x2="1828.6" y2="351.3" stroke="#000" stroke-width="2.6"/>
<line x1="1101" y1="69.66" x2="1110" y2="69.66" stroke="#000" stroke-width="2.6"/>
<line x1="1101" y1="127.79" x2="1110" y2="127.79" stroke="#000" stroke-width="2.6"/>
<line x1="1101" y1="185.92" x2="1110" y2="185.92" stroke="#000" stroke-width="2.6"/>
<line x1="1101" y1="244.05" x2="1110" y2="244.05" stroke="#000" stroke-width="2.6"/>
<line x1="1101" y1="302.17" x2="1110" y2="302.17" stroke="#000" stroke-width="2.6"/>
<line x1="1101" y1="360.3" x2="1110" y2="360.3" stroke="#000" stroke-width="2.6"/>
<rect x="1101" y="40.6" width="727.6" height="319.7" fill="none" stroke="#000" stroke-width="2.7"/>
<text x="1101" y="396" text-anchor="middle" font-size="30" font-weight="bold">−10</text>
<text x="1282.9" y="396" text-anchor="middle" font-size="30" font-weight="bold">−5</text>
<text x="1464.8" y="396" text-anchor="middle" font-size="30" font-weight="bold">0</text>
<text x="1646.7" y="396" text-anchor="middle" font-size="30" font-weight="bold">5</text>
<text x="1828.6" y="396" text-anchor="middle" font-size="30" font-weight="bold">10</text>
<text x="1090" y="80.26" text-anchor="end" font-size="30" font-weight="bold">0</text>
<text x="1090" y="138.39" text-anchor="end" font-size="30" font-weight="bold">−2</text>
<text x="1090" y="196.52" text-anchor="end" font-size="30" font-weight="bold">−4</text>
<text x="1090" y="254.65" text-anchor="end" font-size="30" font-weight="bold">−6</text>
<text x="1090" y="312.77" text-anchor="end" font-size="30" font-weight="bold">−8</text>
<text x="1090" y="370.9" text-anchor="end" font-size="30" font-weight="bold">−10</text>
<text x="1462.8" y="428.8" text-anchor="middle" font-size="30" font-weight="bold"><tspan font-style="italic">x</tspan>/μm</text>
<text transform="translate(1029 201.85) rotate(-90)" text-anchor="middle" font-size="30" font-weight="bold"><tspan font-style="italic">z</tspan>/μm</text>
<path d="M1101 646 L1279.1 646.7 L1280.6 658.5 L1282.8 661.5 L1284.3 658.5 L1285.8 639.4 L1289.5 617.3 L1295.3 587.8 L1301.2 558.4 L1307.1 533.3 L1313 509.8 L1318.2 492.1 L1321.9 496.5 L1326.3 521.5 L1332.2 558.4 L1338.1 595.2 L1344 629.1 L1348.4 651.1 L1354.3 655.6 L1363.1 667.3 L1374.9 683.5 L1385.2 695.3 L1395.5 704.2 L1404.3 707.1 L1429.4 707.9 L1448.5 715.2 L1460 714.5 L1474.7 716 L1496.8 708.6 L1518.9 707.9 L1530.7 702.7 L1543.9 689.4 L1555.7 674.7 L1566 661.5 L1574.9 651.2 L1580.8 636.4 L1585.2 609.9 L1591.1 576 L1597 543.6 L1602.9 511.2 L1610.2 475.9 L1616.1 487.7 L1623.5 517.1 L1630.8 549.5 L1636.7 580.5 L1641.1 609.9 L1644.1 629.1 L1648.5 639.4 L1651.5 646 L1828.6 646" fill="none" stroke="#2e2e2e" stroke-width="4.9" stroke-linejoin="round" stroke-linecap="butt" stroke-opacity="0.95"/>
<path d="M1101 646 L1279.1 646 L1283.6 636.4 L1286.5 639.4 L1289.5 657 L1293.9 659.2 L1300.5 663.7 L1304.2 654.1 L1310.1 629.1 L1314.5 620.2 L1319.6 609.2 L1324.8 621.7 L1330.7 634.9 L1338.1 648.9 L1348.4 648.2 L1358.7 641.6 L1366 646.7 L1374.9 655.6 L1392.5 660.7 L1407.3 661.5 L1417.6 654.1 L1429.4 651.9 L1441.1 648.9 L1451.5 652.6 L1460 657 L1471.8 664.4 L1482.1 657.8 L1489.5 651.2 L1504.2 643.8 L1518.9 637.9 L1530.7 637.9 L1542.5 644.5 L1555.7 644.5 L1566 646.7 L1574.9 651.9 L1585.2 653.4 L1595.5 640.8 L1601.4 623.2 L1607.3 607 L1610.2 597.4 L1614.6 605.5 L1619 617.3 L1625 637.9 L1629.4 637.9 L1633.8 639.4 L1636.7 635 L1639.7 621.7 L1644.1 629.1 L1648.5 637.9 L1651.5 646 L1828.6 646" fill="none" stroke="#c80a0e" stroke-width="4.9" stroke-linejoin="round" stroke-linecap="butt" stroke-opacity="0.8"/>
<line x1="1612" y1="473.6" x2="1717" y2="473.6" stroke="#8a8a8a" stroke-width="2.2" stroke-dasharray="9 5.5"/>
<line x1="1611" y1="598.1" x2="1717" y2="598.1" stroke="#c00000" stroke-width="2.2" stroke-dasharray="9 5.5"/>
<line x1="1297.6" y1="667" x2="1717" y2="667" stroke="#c00000" stroke-width="2.2" stroke-dasharray="9 5.5"/>
<line x1="1469.6" y1="719.8" x2="1717" y2="719.8" stroke="#8a8a8a" stroke-width="2.2" stroke-dasharray="9 5.5"/>
<rect x="1717.1" y="457.5" width="84.7" height="36.3" fill="#7f7f7f"/><text x="1758" y="485.65" text-anchor="middle" font-size="30" font-weight="bold" fill="#fff">2.66</text>
<rect x="1717.1" y="584" width="84.7" height="35.9" fill="#f8a59c"/><text x="1758" y="611.95" text-anchor="middle" font-size="30" font-weight="bold" fill="#fff">0.77</text>
<rect x="1717.1" y="652.7" width="84.7" height="36.1" fill="#f8a59c"/><text x="1758" y="680.75" text-anchor="middle" font-size="30" font-weight="bold" fill="#fff">−0.27</text>
<rect x="1717.1" y="701.9" width="84.7" height="35.8" fill="#7f7f7f"/><text x="1758" y="729.8" text-anchor="middle" font-size="30" font-weight="bold" fill="#fff">−1.08</text>
<rect x="1118.6" y="673.6" width="220.4" height="87.3" fill="#fff" fill-opacity="0.82" stroke="#000" stroke-width="1.8"/>
<line x1="1129" y1="696.5" x2="1170.2" y2="696.5" stroke="#2e2e2e" stroke-width="4.6" stroke-opacity="1"/>
<text x="1174.5" y="706.8" font-size="30" font-weight="bold">Initial</text>
<line x1="1129" y1="740" x2="1170.2" y2="740" stroke="#c80a0e" stroke-width="4.6" stroke-opacity="0.8"/>
<text x="1174.5" y="750.3" font-size="30" font-weight="bold">Optimized</text>
<line x1="1137.38" y1="774.3" x2="1137.38" y2="767.8" stroke="#000" stroke-width="2.6"/>
<line x1="1173.76" y1="774.3" x2="1173.76" y2="767.8" stroke="#000" stroke-width="2.6"/>
<line x1="1210.14" y1="774.3" x2="1210.14" y2="767.8" stroke="#000" stroke-width="2.6"/>
<line x1="1246.52" y1="774.3" x2="1246.52" y2="767.8" stroke="#000" stroke-width="2.6"/>
<line x1="1319.28" y1="774.3" x2="1319.28" y2="767.8" stroke="#000" stroke-width="2.6"/>
<line x1="1355.66" y1="774.3" x2="1355.66" y2="767.8" stroke="#000" stroke-width="2.6"/>
<line x1="1392.04" y1="774.3" x2="1392.04" y2="767.8" stroke="#000" stroke-width="2.6"/>
<line x1="1428.42" y1="774.3" x2="1428.42" y2="767.8" stroke="#000" stroke-width="2.6"/>
<line x1="1501.18" y1="774.3" x2="1501.18" y2="767.8" stroke="#000" stroke-width="2.6"/>
<line x1="1537.56" y1="774.3" x2="1537.56" y2="767.8" stroke="#000" stroke-width="2.6"/>
<line x1="1573.94" y1="774.3" x2="1573.94" y2="767.8" stroke="#000" stroke-width="2.6"/>
<line x1="1610.32" y1="774.3" x2="1610.32" y2="767.8" stroke="#000" stroke-width="2.6"/>
<line x1="1683.08" y1="774.3" x2="1683.08" y2="767.8" stroke="#000" stroke-width="2.6"/>
<line x1="1719.46" y1="774.3" x2="1719.46" y2="767.8" stroke="#000" stroke-width="2.6"/>
<line x1="1755.84" y1="774.3" x2="1755.84" y2="767.8" stroke="#000" stroke-width="2.6"/>
<line x1="1792.22" y1="774.3" x2="1792.22" y2="767.8" stroke="#000" stroke-width="2.6"/>
<line x1="1101" y1="774.3" x2="1101" y2="765.3" stroke="#000" stroke-width="2.6"/>
<line x1="1282.9" y1="774.3" x2="1282.9" y2="765.3" stroke="#000" stroke-width="2.6"/>
<line x1="1464.8" y1="774.3" x2="1464.8" y2="765.3" stroke="#000" stroke-width="2.6"/>
<line x1="1646.7" y1="774.3" x2="1646.7" y2="765.3" stroke="#000" stroke-width="2.6"/>
<line x1="1828.6" y1="774.3" x2="1828.6" y2="765.3" stroke="#000" stroke-width="2.6"/>
<line x1="1101" y1="485.76" x2="1107.5" y2="485.76" stroke="#000" stroke-width="2.6"/>
<line x1="1101" y1="549.88" x2="1107.5" y2="549.88" stroke="#000" stroke-width="2.6"/>
<line x1="1101" y1="614" x2="1107.5" y2="614" stroke="#000" stroke-width="2.6"/>
<line x1="1101" y1="678.12" x2="1107.5" y2="678.12" stroke="#000" stroke-width="2.6"/>
<line x1="1101" y1="742.24" x2="1107.5" y2="742.24" stroke="#000" stroke-width="2.6"/>
<line x1="1101" y1="453.7" x2="1110" y2="453.7" stroke="#000" stroke-width="2.6"/>
<line x1="1101" y1="517.82" x2="1110" y2="517.82" stroke="#000" stroke-width="2.6"/>
<line x1="1101" y1="581.94" x2="1110" y2="581.94" stroke="#000" stroke-width="2.6"/>
<line x1="1101" y1="646.06" x2="1110" y2="646.06" stroke="#000" stroke-width="2.6"/>
<line x1="1101" y1="710.18" x2="1110" y2="710.18" stroke="#000" stroke-width="2.6"/>
<line x1="1101" y1="774.3" x2="1110" y2="774.3" stroke="#000" stroke-width="2.6"/>
<rect x="1101" y="453.7" width="727.6" height="320.6" fill="none" stroke="#000" stroke-width="2.7"/>
<text x="1101" y="809" text-anchor="middle" font-size="30" font-weight="bold">−10</text>
<text x="1282.9" y="809" text-anchor="middle" font-size="30" font-weight="bold">−5</text>
<text x="1464.8" y="809" text-anchor="middle" font-size="30" font-weight="bold">0</text>
<text x="1646.7" y="809" text-anchor="middle" font-size="30" font-weight="bold">5</text>
<text x="1828.6" y="809" text-anchor="middle" font-size="30" font-weight="bold">10</text>
<text x="1090" y="464.3" text-anchor="end" font-size="30" font-weight="bold">3</text>
<text x="1090" y="528.42" text-anchor="end" font-size="30" font-weight="bold">2</text>
<text x="1090" y="592.54" text-anchor="end" font-size="30" font-weight="bold">1</text>
<text x="1090" y="656.66" text-anchor="end" font-size="30" font-weight="bold">0</text>
<text x="1090" y="720.78" text-anchor="end" font-size="30" font-weight="bold">−1</text>
<text x="1090" y="784.9" text-anchor="end" font-size="30" font-weight="bold">−2</text>
<text x="1462.8" y="842.5" text-anchor="middle" font-size="30" font-weight="bold"><tspan font-style="italic">x</tspan>/μm</text>
<text transform="translate(1035.4 616.4) rotate(-90)" text-anchor="middle" font-size="30" font-weight="bold">Deviation/μm</text>
<path d="M1101 983.8 L1269 983.8 L1362.3 1214.8 L1567.6 1214.8 L1663.3 983.8 L1828.6 983.8 L1828.6 1283.3 L1101 1283.3Z" fill="url(#hatch)"/>
<path d="M1101 983.8 L1269 983.8 L1362.3 1214.8 L1567.6 1214.8 L1663.3 983.8 L1828.6 983.8" fill="none" stroke="#93acdf" stroke-width="5" stroke-linejoin="round" stroke-linecap="butt" stroke-opacity="1.0"/>
<path d="M1101 983.4 L1250 982.7 L1259.5 985.8 L1262.7 988.2 L1270.6 984.2 L1281.6 992.1 L1291.1 1004.8 L1300.6 1020.6 L1308.5 1036.4 L1316.4 1052.2 L1324.3 1071.2 L1332.2 1090.2 L1340.2 1112.3 L1346.5 1131.3 L1352.8 1148.7 L1360.7 1174 L1367 1197.8 L1373.4 1216.7 L1379.7 1229.4 L1384.4 1248.4 L1392.3 1253.1 L1403.4 1257.1 L1412.9 1256.3 L1424 1250 L1439.8 1244.4 L1452.4 1237.3 L1463.5 1234.9 L1472.7 1237.4 L1491.6 1242.1 L1504.3 1245.3 L1518.5 1247.7 L1532.8 1242.9 L1537.5 1229.5 L1545.4 1220 L1548.6 1205.7 L1554.9 1197.8 L1561.3 1185.2 L1569.2 1164.6 L1577.1 1148.8 L1583.4 1136.1 L1588.1 1121.9 L1592.9 1106.1 L1599.2 1090.2 L1604 1080.7 L1605.5 1064.9 L1611.9 1052.3 L1618.2 1044.4 L1627.7 1031.7 L1634 1020.6 L1646.7 1001.6 L1656.2 990.6 L1664.1 985 L1681.5 985 L1700 985.8 L1780 986 L1800 985 L1828.6 984.5" fill="none" stroke="#2e2e2e" stroke-width="4.9" stroke-linejoin="round" stroke-linecap="butt" stroke-opacity="0.95"/>
<path d="M1101 983.6 L1250 983.4 L1259.5 985 L1270.6 987.4 L1278.5 996.9 L1286.4 1009.5 L1291.1 1020.6 L1294.3 1036.4 L1300.6 1052.2 L1305.4 1063.3 L1310.1 1072.8 L1316.4 1090.2 L1322.8 1106 L1327.5 1125 L1332.2 1137.7 L1338.6 1150.3 L1346.5 1163 L1352.8 1175.6 L1359.1 1186.7 L1363.9 1200.9 L1370.2 1210.4 L1379.7 1218.3 L1387.6 1223.1 L1395.5 1220.7 L1408.2 1217.5 L1420.8 1221.5 L1433.5 1217.5 L1444.5 1219.1 L1460 1219.4 L1482.1 1219.2 L1491.6 1213.6 L1501.1 1214.4 L1507.5 1217.6 L1520.1 1217.1 L1526.4 1213.6 L1535.9 1214.4 L1548.6 1218.4 L1558.1 1210.5 L1567.6 1196.2 L1577.1 1175.7 L1583.4 1156.7 L1591.3 1140.9 L1599.2 1123.5 L1607.1 1101.3 L1615 1083.9 L1621.4 1071.3 L1626.1 1061.8 L1629.3 1049.1 L1635.6 1036.4 L1643.5 1020.6 L1646.7 1009.6 L1654.6 996.9 L1665.7 993.7 L1675.2 987.4 L1684.7 982.7 L1700 983.4 L1828.6 983.6" fill="none" stroke="#c80a0e" stroke-width="4.9" stroke-linejoin="round" stroke-linecap="butt" stroke-opacity="0.82"/>
<line x1="1137.38" y1="1283.3" x2="1137.38" y2="1276.8" stroke="#000" stroke-width="2.6"/>
<line x1="1173.76" y1="1283.3" x2="1173.76" y2="1276.8" stroke="#000" stroke-width="2.6"/>
<line x1="1210.14" y1="1283.3" x2="1210.14" y2="1276.8" stroke="#000" stroke-width="2.6"/>
<line x1="1246.52" y1="1283.3" x2="1246.52" y2="1276.8" stroke="#000" stroke-width="2.6"/>
<line x1="1319.28" y1="1283.3" x2="1319.28" y2="1276.8" stroke="#000" stroke-width="2.6"/>
<line x1="1355.66" y1="1283.3" x2="1355.66" y2="1276.8" stroke="#000" stroke-width="2.6"/>
<line x1="1392.04" y1="1283.3" x2="1392.04" y2="1276.8" stroke="#000" stroke-width="2.6"/>
<line x1="1428.42" y1="1283.3" x2="1428.42" y2="1276.8" stroke="#000" stroke-width="2.6"/>
<line x1="1501.18" y1="1283.3" x2="1501.18" y2="1276.8" stroke="#000" stroke-width="2.6"/>
<line x1="1537.56" y1="1283.3" x2="1537.56" y2="1276.8" stroke="#000" stroke-width="2.6"/>
<line x1="1573.94" y1="1283.3" x2="1573.94" y2="1276.8" stroke="#000" stroke-width="2.6"/>
<line x1="1610.32" y1="1283.3" x2="1610.32" y2="1276.8" stroke="#000" stroke-width="2.6"/>
<line x1="1683.08" y1="1283.3" x2="1683.08" y2="1276.8" stroke="#000" stroke-width="2.6"/>
<line x1="1719.46" y1="1283.3" x2="1719.46" y2="1276.8" stroke="#000" stroke-width="2.6"/>
<line x1="1755.84" y1="1283.3" x2="1755.84" y2="1276.8" stroke="#000" stroke-width="2.6"/>
<line x1="1792.22" y1="1283.3" x2="1792.22" y2="1276.8" stroke="#000" stroke-width="2.6"/>
<line x1="1101" y1="1283.3" x2="1101" y2="1274.3" stroke="#000" stroke-width="2.6"/>
<line x1="1282.9" y1="1283.3" x2="1282.9" y2="1274.3" stroke="#000" stroke-width="2.6"/>
<line x1="1464.8" y1="1283.3" x2="1464.8" y2="1274.3" stroke="#000" stroke-width="2.6"/>
<line x1="1646.7" y1="1283.3" x2="1646.7" y2="1274.3" stroke="#000" stroke-width="2.6"/>
<line x1="1828.6" y1="1283.3" x2="1828.6" y2="1274.3" stroke="#000" stroke-width="2.6"/>
<line x1="1101" y1="1004.09" x2="1107.5" y2="1004.09" stroke="#000" stroke-width="2.6"/>
<line x1="1101" y1="1043.97" x2="1107.5" y2="1043.97" stroke="#000" stroke-width="2.6"/>
<line x1="1101" y1="1123.75" x2="1107.5" y2="1123.75" stroke="#000" stroke-width="2.6"/>
<line x1="1101" y1="1163.64" x2="1107.5" y2="1163.64" stroke="#000" stroke-width="2.6"/>
<line x1="1101" y1="1203.53" x2="1107.5" y2="1203.53" stroke="#000" stroke-width="2.6"/>
<line x1="1101" y1="1243.41" x2="1107.5" y2="1243.41" stroke="#000" stroke-width="2.6"/>
<line x1="1101" y1="984.14" x2="1110" y2="984.14" stroke="#000" stroke-width="2.6"/>
<line x1="1101" y1="1083.86" x2="1110" y2="1083.86" stroke="#000" stroke-width="2.6"/>
<line x1="1101" y1="1183.58" x2="1110" y2="1183.58" stroke="#000" stroke-width="2.6"/>
<line x1="1101" y1="1283.3" x2="1110" y2="1283.3" stroke="#000" stroke-width="2.6"/>
<rect x="1101" y="964.2" width="727.6" height="319.1" fill="none" stroke="#000" stroke-width="2.7"/>
<text x="1101" y="1318.5" text-anchor="middle" font-size="30" font-weight="bold">−10</text>
<text x="1282.9" y="1318.5" text-anchor="middle" font-size="30" font-weight="bold">−5</text>
<text x="1464.8" y="1318.5" text-anchor="middle" font-size="30" font-weight="bold">0</text>
<text x="1646.7" y="1318.5" text-anchor="middle" font-size="30" font-weight="bold">5</text>
<text x="1828.6" y="1318.5" text-anchor="middle" font-size="30" font-weight="bold">10</text>
<text x="1090" y="994.74" text-anchor="end" font-size="30" font-weight="bold">0</text>
<text x="1090" y="1094.46" text-anchor="end" font-size="30" font-weight="bold">−5</text>
<text x="1090" y="1194.18" text-anchor="end" font-size="30" font-weight="bold">−10</text>
<text x="1090" y="1293.9" text-anchor="end" font-size="30" font-weight="bold">−15</text>
<text x="1462.8" y="1356.6" text-anchor="middle" font-size="30" font-weight="bold"><tspan font-style="italic">x</tspan>/μm</text>
<text transform="translate(1032.3 1125.05) rotate(-90)" text-anchor="middle" font-size="30" font-weight="bold"><tspan font-style="italic">z</tspan>/μm</text>
<path d="M1101 1567.4 L1253.7 1567.4 L1258.3 1571.2 L1262.9 1578.8 L1266.7 1572.7 L1269.8 1542.2 L1272.8 1530 L1278.2 1508.6 L1285.8 1485.7 L1293.5 1470.4 L1298 1464.3 L1301.1 1458.2 L1305.7 1453.6 L1308.7 1444.4 L1314.8 1439.1 L1319.4 1441.4 L1323.2 1449 L1328.6 1452.8 L1334.7 1458.2 L1340.8 1462.8 L1346.9 1478 L1351.5 1476.5 L1356.1 1484.1 L1360.7 1487.2 L1363.7 1496.4 L1366.8 1519.3 L1369.8 1549.8 L1372.9 1580.4 L1377.5 1600.2 L1380.5 1618.5 L1383.6 1641.4 L1385.1 1658.2 L1391.2 1667.4 L1397.3 1675 L1401.9 1681.9 L1412.6 1681.2 L1420.2 1668.9 L1429.4 1661.3 L1438.5 1653.7 L1444.6 1641.4 L1449.2 1632.3 L1456.9 1627.7 L1463 1623.1 L1469.5 1625.2 L1472.7 1624.4 L1483.7 1636.3 L1491.6 1641.8 L1501.1 1644.2 L1507.5 1652.1 L1517 1659.2 L1524.9 1652.1 L1532.8 1642.6 L1536 1620.5 L1537.5 1603.1 L1545.5 1585.7 L1547 1560.3 L1548.6 1547.7 L1553.4 1536.6 L1556.5 1512.9 L1561.3 1484.4 L1566 1457.5 L1570 1450.4 L1577.1 1462.2 L1581.9 1463.8 L1585 1470.9 L1589.8 1454.3 L1592.9 1446.4 L1597.7 1441.6 L1602.4 1447.2 L1605.6 1430.6 L1609.5 1423.5 L1615.1 1430.6 L1621.4 1448 L1627.7 1471.7 L1632.5 1479.6 L1638.8 1493.9 L1646.7 1514.4 L1653.1 1533.4 L1657.8 1552.4 L1662.6 1573 L1668.9 1571.4 L1681.5 1572.2 L1694.2 1572.2 L1700.5 1573.8 L1790 1573.8 L1800 1568.5 L1828.6 1568" fill="none" stroke="#2e2e2e" stroke-width="4.9" stroke-linejoin="round" stroke-linecap="butt" stroke-opacity="0.95"/>
<path d="M1101 1567.4 L1252.2 1566.6 L1256.8 1571.2 L1259.9 1574.2 L1266 1574.2 L1269 1566.6 L1272.1 1549.8 L1276.7 1542.2 L1281.2 1526.9 L1285.8 1514.7 L1289.6 1507 L1292.7 1514.7 L1295 1523.9 L1301.1 1531.5 L1304.9 1533 L1308 1526.9 L1311.8 1533 L1316.4 1536.1 L1319.4 1542.2 L1323.2 1545.2 L1327.1 1554.4 L1330.1 1559 L1334.7 1555.9 L1337.7 1554.4 L1342.3 1545.2 L1348.4 1530 L1356.1 1528.4 L1359.1 1519.3 L1362.2 1525.4 L1365.2 1549.8 L1369.8 1557.5 L1377.5 1574.2 L1383.6 1583.4 L1388.1 1588 L1392.7 1583.4 L1398.8 1581.9 L1403.4 1578.8 L1409.5 1575 L1414.1 1578.8 L1420.2 1583.4 L1424.8 1580.4 L1429.4 1578.8 L1434 1574.2 L1440.1 1575 L1444.6 1579.6 L1460 1579.4 L1482.2 1579.3 L1491.6 1566.7 L1501.1 1565.9 L1509.1 1575.4 L1518.6 1575.4 L1526.5 1565.9 L1532.8 1565.9 L1537.5 1571.4 L1545.5 1574.6 L1551.8 1572.2 L1558.1 1558 L1562.9 1547.7 L1569.2 1525.5 L1577.1 1535 L1583.4 1527.1 L1589.8 1527.9 L1594.5 1536.6 L1602.4 1539 L1610.3 1532.6 L1618.2 1534.2 L1624.6 1546.1 L1629.3 1527.1 L1635.7 1536.6 L1642 1549.3 L1646.7 1539.8 L1653.1 1555.6 L1657.8 1573 L1661 1592 L1665.7 1595.1 L1672.1 1582.5 L1678.4 1577.7 L1683.1 1566.7 L1697.4 1568.2 L1828.6 1568" fill="none" stroke="#c80a0e" stroke-width="4.9" stroke-linejoin="round" stroke-linecap="butt" stroke-opacity="0.8"/>
<line x1="1608" y1="1420.8" x2="1717" y2="1420.8" stroke="#8a8a8a" stroke-width="2.2" stroke-dasharray="9 5.5"/>
<line x1="1285.8" y1="1500.5" x2="1717" y2="1500.5" stroke="#c00000" stroke-width="2.2" stroke-dasharray="9 5.5"/>
<line x1="1664.1" y1="1598" x2="1717" y2="1598" stroke="#c00000" stroke-width="2.2" stroke-dasharray="9 5.5"/>
<line x1="1401.9" y1="1682.3" x2="1717" y2="1682.3" stroke="#8a8a8a" stroke-width="2.2" stroke-dasharray="9 5.5"/>
<rect x="1717.1" y="1412.2" width="84.7" height="35.8" fill="#7f7f7f"/><text x="1758" y="1440.1" text-anchor="middle" font-size="30" font-weight="bold" fill="#fff">2.71</text>
<rect x="1717.1" y="1482" width="84.7" height="35.8" fill="#f8a59c"/><text x="1758" y="1509.9" text-anchor="middle" font-size="30" font-weight="bold" fill="#fff">1.17</text>
<rect x="1717.1" y="1579.9" width="84.7" height="35.8" fill="#f8a59c"/><text x="1758" y="1607.8" text-anchor="middle" font-size="30" font-weight="bold" fill="#fff">−0.5</text>
<rect x="1717.1" y="1665.8" width="84.7" height="35.8" fill="#7f7f7f"/><text x="1758" y="1693.7" text-anchor="middle" font-size="30" font-weight="bold" fill="#fff">−2.11</text>
<line x1="1137.38" y1="1728.5" x2="1137.38" y2="1722" stroke="#000" stroke-width="2.6"/>
<line x1="1173.76" y1="1728.5" x2="1173.76" y2="1722" stroke="#000" stroke-width="2.6"/>
<line x1="1210.14" y1="1728.5" x2="1210.14" y2="1722" stroke="#000" stroke-width="2.6"/>
<line x1="1246.52" y1="1728.5" x2="1246.52" y2="1722" stroke="#000" stroke-width="2.6"/>
<line x1="1319.28" y1="1728.5" x2="1319.28" y2="1722" stroke="#000" stroke-width="2.6"/>
<line x1="1355.66" y1="1728.5" x2="1355.66" y2="1722" stroke="#000" stroke-width="2.6"/>
<line x1="1392.04" y1="1728.5" x2="1392.04" y2="1722" stroke="#000" stroke-width="2.6"/>
<line x1="1428.42" y1="1728.5" x2="1428.42" y2="1722" stroke="#000" stroke-width="2.6"/>
<line x1="1501.18" y1="1728.5" x2="1501.18" y2="1722" stroke="#000" stroke-width="2.6"/>
<line x1="1537.56" y1="1728.5" x2="1537.56" y2="1722" stroke="#000" stroke-width="2.6"/>
<line x1="1573.94" y1="1728.5" x2="1573.94" y2="1722" stroke="#000" stroke-width="2.6"/>
<line x1="1610.32" y1="1728.5" x2="1610.32" y2="1722" stroke="#000" stroke-width="2.6"/>
<line x1="1683.08" y1="1728.5" x2="1683.08" y2="1722" stroke="#000" stroke-width="2.6"/>
<line x1="1719.46" y1="1728.5" x2="1719.46" y2="1722" stroke="#000" stroke-width="2.6"/>
<line x1="1755.84" y1="1728.5" x2="1755.84" y2="1722" stroke="#000" stroke-width="2.6"/>
<line x1="1792.22" y1="1728.5" x2="1792.22" y2="1722" stroke="#000" stroke-width="2.6"/>
<line x1="1101" y1="1728.5" x2="1101" y2="1719.5" stroke="#000" stroke-width="2.6"/>
<line x1="1282.9" y1="1728.5" x2="1282.9" y2="1719.5" stroke="#000" stroke-width="2.6"/>
<line x1="1464.8" y1="1728.5" x2="1464.8" y2="1719.5" stroke="#000" stroke-width="2.6"/>
<line x1="1646.7" y1="1728.5" x2="1646.7" y2="1719.5" stroke="#000" stroke-width="2.6"/>
<line x1="1828.6" y1="1728.5" x2="1828.6" y2="1719.5" stroke="#000" stroke-width="2.6"/>
<line x1="1101" y1="1435.44" x2="1107.5" y2="1435.44" stroke="#000" stroke-width="2.6"/>
<line x1="1101" y1="1488.72" x2="1107.5" y2="1488.72" stroke="#000" stroke-width="2.6"/>
<line x1="1101" y1="1542.01" x2="1107.5" y2="1542.01" stroke="#000" stroke-width="2.6"/>
<line x1="1101" y1="1595.29" x2="1107.5" y2="1595.29" stroke="#000" stroke-width="2.6"/>
<line x1="1101" y1="1648.58" x2="1107.5" y2="1648.58" stroke="#000" stroke-width="2.6"/>
<line x1="1101" y1="1701.86" x2="1107.5" y2="1701.86" stroke="#000" stroke-width="2.6"/>
<line x1="1101" y1="1408.8" x2="1110" y2="1408.8" stroke="#000" stroke-width="2.6"/>
<line x1="1101" y1="1462.08" x2="1110" y2="1462.08" stroke="#000" stroke-width="2.6"/>
<line x1="1101" y1="1515.37" x2="1110" y2="1515.37" stroke="#000" stroke-width="2.6"/>
<line x1="1101" y1="1568.65" x2="1110" y2="1568.65" stroke="#000" stroke-width="2.6"/>
<line x1="1101" y1="1621.93" x2="1110" y2="1621.93" stroke="#000" stroke-width="2.6"/>
<line x1="1101" y1="1675.22" x2="1110" y2="1675.22" stroke="#000" stroke-width="2.6"/>
<line x1="1101" y1="1728.5" x2="1110" y2="1728.5" stroke="#000" stroke-width="2.6"/>
<rect x="1101" y="1408.8" width="727.6" height="319.7" fill="none" stroke="#000" stroke-width="2.7"/>
<text x="1101" y="1766.5" text-anchor="middle" font-size="30" font-weight="bold">−10</text>
<text x="1282.9" y="1766.5" text-anchor="middle" font-size="30" font-weight="bold">−5</text>
<text x="1464.8" y="1766.5" text-anchor="middle" font-size="30" font-weight="bold">0</text>
<text x="1646.7" y="1766.5" text-anchor="middle" font-size="30" font-weight="bold">5</text>
<text x="1828.6" y="1766.5" text-anchor="middle" font-size="30" font-weight="bold">10</text>
<text x="1090" y="1419.4" text-anchor="end" font-size="30" font-weight="bold">3</text>
<text x="1090" y="1472.68" text-anchor="end" font-size="30" font-weight="bold">2</text>
<text x="1090" y="1525.97" text-anchor="end" font-size="30" font-weight="bold">1</text>
<text x="1090" y="1579.25" text-anchor="end" font-size="30" font-weight="bold">0</text>
<text x="1090" y="1632.53" text-anchor="end" font-size="30" font-weight="bold">−1</text>
<text x="1090" y="1685.82" text-anchor="end" font-size="30" font-weight="bold">−2</text>
<text x="1090" y="1739.1" text-anchor="end" font-size="30" font-weight="bold">−3</text>
<text x="1462.8" y="1803.6" text-anchor="middle" font-size="30" font-weight="bold"><tspan font-style="italic">x</tspan>/μm</text>
<text transform="translate(1039 1570.65) rotate(-90)" text-anchor="middle" font-size="30" font-weight="bold">Deviation/μm</text>
<text x="1311" y="29.2" text-anchor="middle" font-size="30" font-weight="bold" fill="#717171">Type-2</text>
<text x="1458.3" y="29.2" text-anchor="middle" font-size="30" font-weight="bold" fill="#0c6fc0">Type-1</text>
<text x="1311" y="945" text-anchor="middle" font-size="30" font-weight="bold" fill="#717171">Type-2</text>
<text x="1459.8" y="945" text-anchor="middle" font-size="30" font-weight="bold" fill="#f7b12c">Type-3</text>
<text x="13.5" y="38.8" font-size="35" font-weight="bold">(a)</text>
<text x="950.5" y="38.8" font-size="35" font-weight="bold">(b)</text>
<text x="14" y="945.6" font-size="30" font-weight="bold">(c)</text>
<text x="977.2" y="945.6" font-size="30" font-weight="bold">(d)</text>
</svg>
</body></html>
